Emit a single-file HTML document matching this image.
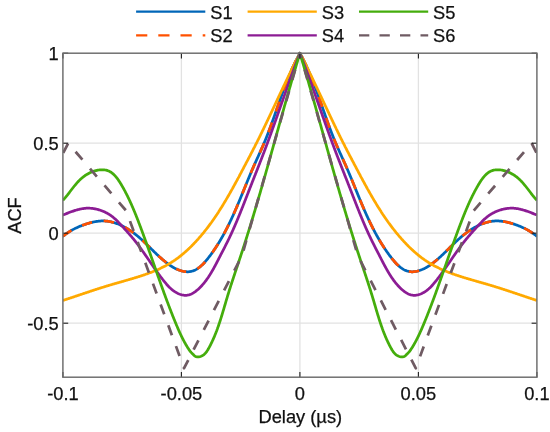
<!DOCTYPE html>
<html><head><meta charset="utf-8"><style>html,body{margin:0;padding:0;background:#fff;overflow:hidden}svg{display:block}</style></head>
<body><svg width="550" height="432" viewBox="0 0 550 432">
<defs><clipPath id="c"><rect x="62.9" y="51.2" width="474.0" height="326.0"/></clipPath></defs>
<rect width="550" height="432" fill="#fff"/>
<g stroke="#e2e2e2" stroke-width="1.3"><line x1="181.40" y1="53.2" x2="181.40" y2="377.2"/><line x1="299.90" y1="53.2" x2="299.90" y2="377.2"/><line x1="418.40" y1="53.2" x2="418.40" y2="377.2"/><line x1="62.9" y1="143.20" x2="536.9" y2="143.20"/><line x1="62.9" y1="233.20" x2="536.9" y2="233.20"/><line x1="62.9" y1="323.20" x2="536.9" y2="323.20"/></g>
<g clip-path="url(#c)" fill="none" stroke-width="2.75" stroke-linejoin="round">
<path d="M62.86 236.29 L63.42 235.86 L63.98 235.43 L64.54 235.02 L65.09 234.61 L65.63 234.22 L66.17 233.84 L66.70 233.46 L67.23 233.10 L67.76 232.74 L68.28 232.39 L68.80 232.06 L69.31 231.73 L69.83 231.40 L70.33 231.09 L70.84 230.79 L71.34 230.49 L71.85 230.20 L72.34 229.92 L72.84 229.64 L73.34 229.37 L73.83 229.11 L74.33 228.85 L74.82 228.60 L75.32 228.35 L75.81 228.11 L76.31 227.88 L76.81 227.64 L77.30 227.42 L77.81 227.19 L78.31 226.97 L78.81 226.76 L79.32 226.55 L79.83 226.34 L80.35 226.13 L80.87 225.92 L81.39 225.72 L81.92 225.52 L82.45 225.32 L82.99 225.12 L83.53 224.92 L84.08 224.73 L84.64 224.53 L85.20 224.34 L85.76 224.15 L86.33 223.96 L86.91 223.78 L87.49 223.60 L88.07 223.42 L88.66 223.24 L89.25 223.07 L89.84 222.90 L90.44 222.74 L91.04 222.58 L91.65 222.43 L92.26 222.29 L92.87 222.15 L93.49 222.01 L94.10 221.88 L94.72 221.76 L95.35 221.65 L95.97 221.54 L96.60 221.44 L97.23 221.35 L97.86 221.27 L98.49 221.19 L99.12 221.13 L99.76 221.07 L100.39 221.03 L101.03 220.99 L101.67 220.96 L102.31 220.95 L102.94 220.94 L103.58 220.95 L104.22 220.96 L104.86 220.99 L105.50 221.03 L106.14 221.09 L106.78 221.15 L107.41 221.22 L108.05 221.31 L108.69 221.41 L109.32 221.52 L109.96 221.64 L110.59 221.77 L111.22 221.90 L111.86 222.05 L112.49 222.21 L113.12 222.38 L113.75 222.56 L114.37 222.75 L115.00 222.95 L115.63 223.16 L116.25 223.37 L116.87 223.60 L117.49 223.83 L118.11 224.07 L118.73 224.32 L119.34 224.58 L119.95 224.85 L120.56 225.12 L121.17 225.40 L121.78 225.69 L122.38 225.99 L122.98 226.29 L123.58 226.60 L124.18 226.92 L124.77 227.24 L125.37 227.57 L125.95 227.90 L126.54 228.25 L127.12 228.59 L127.70 228.95 L128.28 229.30 L128.85 229.67 L129.42 230.04 L129.99 230.41 L130.56 230.79 L131.12 231.17 L131.67 231.56 L132.23 231.95 L132.78 232.35 L133.32 232.74 L133.87 233.15 L134.40 233.55 L134.94 233.96 L135.47 234.38 L136.00 234.79 L136.52 235.21 L137.04 235.64 L137.55 236.06 L138.06 236.49 L138.57 236.92 L139.08 237.35 L139.58 237.79 L140.08 238.22 L140.58 238.66 L141.07 239.10 L141.56 239.55 L142.05 239.99 L142.54 240.44 L143.02 240.89 L143.50 241.34 L143.99 241.79 L144.46 242.25 L144.94 242.70 L145.42 243.16 L145.89 243.61 L146.36 244.07 L146.83 244.53 L147.30 244.99 L147.77 245.45 L148.24 245.91 L148.71 246.37 L149.18 246.83 L149.64 247.30 L150.11 247.76 L150.58 248.22 L151.04 248.68 L151.51 249.15 L151.98 249.61 L152.44 250.07 L152.91 250.53 L153.38 250.99 L153.85 251.45 L154.32 251.91 L154.79 252.37 L155.26 252.83 L155.73 253.29 L156.20 253.75 L156.68 254.20 L157.16 254.65 L157.64 255.11 L158.12 255.56 L158.60 256.01 L159.08 256.45 L159.57 256.90 L160.06 257.34 L160.55 257.79 L161.04 258.23 L161.54 258.66 L162.04 259.10 L162.54 259.53 L163.05 259.96 L163.56 260.39 L164.07 260.82 L164.59 261.24 L165.11 261.66 L165.63 262.08 L166.16 262.49 L166.69 262.90 L167.22 263.31 L167.76 263.72 L168.30 264.12 L168.85 264.51 L169.40 264.90 L169.96 265.29 L170.53 265.66 L171.09 266.04 L171.67 266.40 L172.25 266.76 L172.83 267.11 L173.42 267.45 L174.02 267.79 L174.63 268.11 L175.24 268.42 L175.85 268.73 L176.48 269.02 L177.11 269.31 L177.75 269.58 L178.39 269.83 L179.04 270.08 L179.69 270.31 L180.35 270.53 L181.01 270.73 L181.67 270.92 L182.34 271.09 L183.00 271.24 L183.66 271.38 L184.33 271.49 L184.99 271.59 L185.64 271.67 L186.29 271.72 L186.94 271.76 L187.58 271.77 L188.22 271.76 L188.85 271.72 L189.47 271.66 L190.08 271.58 L190.69 271.48 L191.29 271.35 L191.88 271.21 L192.46 271.04 L193.04 270.85 L193.61 270.64 L194.18 270.42 L194.74 270.17 L195.29 269.91 L195.84 269.63 L196.38 269.33 L196.91 269.02 L197.44 268.69 L197.96 268.35 L198.48 267.99 L198.99 267.61 L199.50 267.23 L200.00 266.83 L200.49 266.41 L200.98 265.99 L201.47 265.55 L201.95 265.11 L202.43 264.65 L202.90 264.19 L203.37 263.71 L203.83 263.23 L204.29 262.73 L204.74 262.23 L205.19 261.73 L205.64 261.21 L206.08 260.70 L206.52 260.17 L206.96 259.64 L207.39 259.11 L207.82 258.57 L208.24 258.03 L208.66 257.49 L209.08 256.95 L209.50 256.40 L209.91 255.85 L210.32 255.31 L210.73 254.76 L211.14 254.21 L211.54 253.65 L211.94 253.10 L212.33 252.55 L212.73 251.99 L213.12 251.43 L213.51 250.87 L213.90 250.31 L214.28 249.75 L214.66 249.19 L215.04 248.63 L215.41 248.06 L215.79 247.50 L216.16 246.93 L216.53 246.36 L216.89 245.80 L217.26 245.23 L217.62 244.65 L217.98 244.08 L218.34 243.51 L218.69 242.93 L219.04 242.36 L219.39 241.78 L219.74 241.21 L220.09 240.63 L220.43 240.05 L220.77 239.47 L221.11 238.89 L221.45 238.30 L221.78 237.72 L222.12 237.14 L222.45 236.55 L222.78 235.97 L223.11 235.38 L223.43 234.79 L223.75 234.20 L224.08 233.61 L224.40 233.02 L224.71 232.43 L225.03 231.84 L225.34 231.25 L225.66 230.65 L225.97 230.06 L226.28 229.46 L226.59 228.87 L226.89 228.27 L227.20 227.67 L227.50 227.08 L227.80 226.48 L228.10 225.88 L228.40 225.28 L228.69 224.68 L228.99 224.07 L229.28 223.47 L229.57 222.87 L229.87 222.26 L230.16 221.66 L230.44 221.05 L230.73 220.45 L231.02 219.84 L231.30 219.24 L231.58 218.63 L231.86 218.02 L232.15 217.41 L232.43 216.80 L232.70 216.19 L232.98 215.58 L233.26 214.97 L233.53 214.36 L233.81 213.75 L234.08 213.14 L234.35 212.53 L234.62 211.91 L234.89 211.30 L235.16 210.69 L235.43 210.07 L235.70 209.46 L235.96 208.84 L236.23 208.23 L236.49 207.61 L236.76 206.99 L237.02 206.38 L237.29 205.76 L237.55 205.14 L237.81 204.53 L238.07 203.91 L238.33 203.29 L238.59 202.67 L238.85 202.05 L239.11 201.44 L239.37 200.82 L239.62 200.20 L239.88 199.58 L240.14 198.96 L240.39 198.34 L240.65 197.72 L240.90 197.10 L241.16 196.48 L241.41 195.86 L241.67 195.24 L241.92 194.62 L242.18 194.00 L242.43 193.38 L242.69 192.75 L242.94 192.13 L243.19 191.51 L243.45 190.89 L243.70 190.27 L243.95 189.65 L244.21 189.03 L244.46 188.41 L244.71 187.78 L244.96 187.16 L245.22 186.54 L245.47 185.92 L245.73 185.30 L245.98 184.68 L246.23 184.06 L246.49 183.44 L246.74 182.82 L247.00 182.20 L247.25 181.58 L247.51 180.95 L247.76 180.33 L248.02 179.71 L248.27 179.09 L248.53 178.47 L248.79 177.86 L249.04 177.24 L249.30 176.62 L249.56 176.00 L249.82 175.38 L250.08 174.76 L250.34 174.14 L250.60 173.53 L250.86 172.91 L251.12 172.29 L251.39 171.67 L251.65 171.06 L251.91 170.44 L252.18 169.82 L252.44 169.21 L252.71 168.59 L252.98 167.98 L253.24 167.36 L253.51 166.75 L253.78 166.14 L254.05 165.52 L254.33 164.91 L254.60 164.30 L254.87 163.69 L255.15 163.08 L255.42 162.46 L255.70 161.85 L255.97 161.24 L256.25 160.63 L256.52 160.02 L256.80 159.41 L257.08 158.80 L257.36 158.19 L257.63 157.58 L257.91 156.97 L258.19 156.36 L258.47 155.75 L258.74 155.14 L259.02 154.53 L259.30 153.92 L259.57 153.31 L259.85 152.70 L260.13 152.09 L260.40 151.48 L260.68 150.87 L260.95 150.26 L261.22 149.65 L261.50 149.04 L261.77 148.42 L262.04 147.81 L262.31 147.20 L262.58 146.59 L262.85 145.97 L263.11 145.36 L263.38 144.74 L263.64 144.13 L263.90 143.51 L264.17 142.90 L264.43 142.28 L264.68 141.66 L264.94 141.04 L265.20 140.42 L265.45 139.81 L265.70 139.19 L265.96 138.57 L266.21 137.94 L266.46 137.32 L266.70 136.70 L266.95 136.08 L267.20 135.46 L267.44 134.83 L267.68 134.21 L267.93 133.59 L268.17 132.96 L268.41 132.34 L268.65 131.71 L268.88 131.08 L269.12 130.46 L269.36 129.83 L269.59 129.20 L269.83 128.58 L270.06 127.95 L270.29 127.32 L270.53 126.69 L270.76 126.06 L270.99 125.43 L271.22 124.80 L271.45 124.18 L271.68 123.55 L271.90 122.91 L272.13 122.28 L272.36 121.65 L272.58 121.02 L272.81 120.39 L273.03 119.76 L273.26 119.13 L273.48 118.50 L273.71 117.86 L273.93 117.23 L274.15 116.60 L274.38 115.97 L274.60 115.33 L274.82 114.70 L275.04 114.07 L275.26 113.44 L275.49 112.80 L275.71 112.17 L275.93 111.54 L276.15 110.90 L276.37 110.27 L276.59 109.64 L276.81 109.00 L277.03 108.37 L277.25 107.73 L277.47 107.10 L277.70 106.47 L277.92 105.83 L278.14 105.20 L278.36 104.57 L278.58 103.93 L278.80 103.30 L279.02 102.67 L279.25 102.03 L279.47 101.40 L279.69 100.77 L279.91 100.13 L280.14 99.50 L280.36 98.87 L280.59 98.24 L280.81 97.60 L281.04 96.97 L281.26 96.34 L281.49 95.71 L281.71 95.08 L281.94 94.45 L282.17 93.82 L282.40 93.18 L282.63 92.55 L282.86 91.92 L283.09 91.29 L283.32 90.66 L283.55 90.03 L283.78 89.40 L284.02 88.78 L284.25 88.15 L284.49 87.52 L284.72 86.89 L284.96 86.26 L285.20 85.64 L285.44 85.01 L285.68 84.38 L285.92 83.76 L286.16 83.13 L286.41 82.51 L286.65 81.88 L286.90 81.26 L287.14 80.63 L287.39 80.01 L287.64 79.39 L287.89 78.76 L288.14 78.14 L288.40 77.52 L288.65 76.90 L288.91 76.28 L289.16 75.66 L289.42 75.04 L289.68 74.42 L289.94 73.80 L290.21 73.19 L290.47 72.57 L290.74 71.95 L291.01 71.34 L291.28 70.72 L291.55 70.11 L291.82 69.49 L292.09 68.88 L292.37 68.27 L292.65 67.65 L292.93 67.04 L293.21 66.43 L293.49 65.82 L293.77 65.21 L294.06 64.61 L294.35 64.00 L294.64 63.39 L294.93 62.78 L295.23 62.18 L295.52 61.58 L295.82 60.97 L296.12 60.37 L296.43 59.77 L296.73 59.16 L297.04 58.56 L297.35 57.96 L297.66 57.37 L297.97 56.77 L298.29 56.17 L298.60 55.58 L298.93 54.98 L299.25 54.39 L299.57 53.79 L299.90 53.20 L300.23 53.79 L300.55 54.39 L300.87 54.98 L301.20 55.58 L301.51 56.17 L301.83 56.77 L302.14 57.37 L302.45 57.96 L302.76 58.56 L303.07 59.16 L303.37 59.77 L303.68 60.37 L303.98 60.97 L304.28 61.58 L304.57 62.18 L304.87 62.78 L305.16 63.39 L305.45 64.00 L305.74 64.61 L306.03 65.21 L306.31 65.82 L306.59 66.43 L306.87 67.04 L307.15 67.65 L307.43 68.27 L307.71 68.88 L307.98 69.49 L308.25 70.11 L308.52 70.72 L308.79 71.34 L309.06 71.95 L309.33 72.57 L309.59 73.19 L309.86 73.80 L310.12 74.42 L310.38 75.04 L310.64 75.66 L310.89 76.28 L311.15 76.90 L311.40 77.52 L311.66 78.14 L311.91 78.76 L312.16 79.39 L312.41 80.01 L312.66 80.63 L312.90 81.26 L313.15 81.88 L313.39 82.51 L313.64 83.13 L313.88 83.76 L314.12 84.38 L314.36 85.01 L314.60 85.64 L314.84 86.26 L315.08 86.89 L315.31 87.52 L315.55 88.15 L315.78 88.78 L316.02 89.40 L316.25 90.03 L316.48 90.66 L316.71 91.29 L316.94 91.92 L317.17 92.55 L317.40 93.18 L317.63 93.82 L317.86 94.45 L318.09 95.08 L318.31 95.71 L318.54 96.34 L318.76 96.97 L318.99 97.60 L319.21 98.24 L319.44 98.87 L319.66 99.50 L319.89 100.13 L320.11 100.77 L320.33 101.40 L320.55 102.03 L320.78 102.67 L321.00 103.30 L321.22 103.93 L321.44 104.57 L321.66 105.20 L321.88 105.83 L322.10 106.47 L322.33 107.10 L322.55 107.73 L322.77 108.37 L322.99 109.00 L323.21 109.64 L323.43 110.27 L323.65 110.90 L323.87 111.54 L324.09 112.17 L324.31 112.80 L324.54 113.44 L324.76 114.07 L324.98 114.70 L325.20 115.33 L325.42 115.97 L325.65 116.60 L325.87 117.23 L326.09 117.86 L326.32 118.50 L326.54 119.13 L326.77 119.76 L326.99 120.39 L327.22 121.02 L327.44 121.65 L327.67 122.28 L327.90 122.91 L328.12 123.55 L328.35 124.18 L328.58 124.80 L328.81 125.43 L329.04 126.06 L329.27 126.69 L329.51 127.32 L329.74 127.95 L329.97 128.58 L330.21 129.20 L330.44 129.83 L330.68 130.46 L330.92 131.08 L331.15 131.71 L331.39 132.34 L331.63 132.96 L331.87 133.59 L332.12 134.21 L332.36 134.83 L332.60 135.46 L332.85 136.08 L333.10 136.70 L333.34 137.32 L333.59 137.94 L333.84 138.57 L334.10 139.19 L334.35 139.81 L334.60 140.42 L334.86 141.04 L335.12 141.66 L335.37 142.28 L335.63 142.90 L335.90 143.51 L336.16 144.13 L336.42 144.74 L336.69 145.36 L336.95 145.97 L337.22 146.59 L337.49 147.20 L337.76 147.81 L338.03 148.42 L338.30 149.04 L338.58 149.65 L338.85 150.26 L339.12 150.87 L339.40 151.48 L339.67 152.09 L339.95 152.70 L340.23 153.31 L340.50 153.92 L340.78 154.53 L341.06 155.14 L341.33 155.75 L341.61 156.36 L341.89 156.97 L342.17 157.58 L342.44 158.19 L342.72 158.80 L343.00 159.41 L343.28 160.02 L343.55 160.63 L343.83 161.24 L344.10 161.85 L344.38 162.46 L344.65 163.08 L344.93 163.69 L345.20 164.30 L345.47 164.91 L345.75 165.52 L346.02 166.14 L346.29 166.75 L346.56 167.36 L346.82 167.98 L347.09 168.59 L347.36 169.21 L347.62 169.82 L347.89 170.44 L348.15 171.06 L348.41 171.67 L348.68 172.29 L348.94 172.91 L349.20 173.53 L349.46 174.14 L349.72 174.76 L349.98 175.38 L350.24 176.00 L350.50 176.62 L350.76 177.24 L351.01 177.86 L351.27 178.47 L351.53 179.09 L351.78 179.71 L352.04 180.33 L352.29 180.95 L352.55 181.58 L352.80 182.20 L353.06 182.82 L353.31 183.44 L353.57 184.06 L353.82 184.68 L354.07 185.30 L354.33 185.92 L354.58 186.54 L354.84 187.16 L355.09 187.78 L355.34 188.41 L355.59 189.03 L355.85 189.65 L356.10 190.27 L356.35 190.89 L356.61 191.51 L356.86 192.13 L357.11 192.75 L357.37 193.38 L357.62 194.00 L357.88 194.62 L358.13 195.24 L358.39 195.86 L358.64 196.48 L358.90 197.10 L359.15 197.72 L359.41 198.34 L359.66 198.96 L359.92 199.58 L360.18 200.20 L360.43 200.82 L360.69 201.44 L360.95 202.05 L361.21 202.67 L361.47 203.29 L361.73 203.91 L361.99 204.53 L362.25 205.14 L362.51 205.76 L362.78 206.38 L363.04 206.99 L363.31 207.61 L363.57 208.23 L363.84 208.84 L364.10 209.46 L364.37 210.07 L364.64 210.69 L364.91 211.30 L365.18 211.91 L365.45 212.53 L365.72 213.14 L365.99 213.75 L366.27 214.36 L366.54 214.97 L366.82 215.58 L367.10 216.19 L367.37 216.80 L367.65 217.41 L367.94 218.02 L368.22 218.63 L368.50 219.24 L368.78 219.84 L369.07 220.45 L369.36 221.05 L369.64 221.66 L369.93 222.26 L370.23 222.87 L370.52 223.47 L370.81 224.07 L371.11 224.68 L371.40 225.28 L371.70 225.88 L372.00 226.48 L372.30 227.08 L372.60 227.67 L372.91 228.27 L373.21 228.87 L373.52 229.46 L373.83 230.06 L374.14 230.65 L374.46 231.25 L374.77 231.84 L375.09 232.43 L375.40 233.02 L375.72 233.61 L376.05 234.20 L376.37 234.79 L376.69 235.38 L377.02 235.97 L377.35 236.55 L377.68 237.14 L378.02 237.72 L378.35 238.30 L378.69 238.89 L379.03 239.47 L379.37 240.05 L379.71 240.63 L380.06 241.21 L380.41 241.78 L380.76 242.36 L381.11 242.93 L381.46 243.51 L381.82 244.08 L382.18 244.65 L382.54 245.23 L382.91 245.80 L383.27 246.36 L383.64 246.93 L384.01 247.50 L384.39 248.06 L384.76 248.63 L385.14 249.19 L385.52 249.75 L385.90 250.31 L386.29 250.87 L386.68 251.43 L387.07 251.99 L387.47 252.55 L387.86 253.10 L388.26 253.65 L388.66 254.21 L389.07 254.76 L389.48 255.31 L389.89 255.85 L390.30 256.40 L390.72 256.95 L391.14 257.49 L391.56 258.03 L391.98 258.57 L392.41 259.11 L392.84 259.64 L393.28 260.17 L393.72 260.70 L394.16 261.21 L394.61 261.73 L395.06 262.23 L395.51 262.73 L395.97 263.23 L396.43 263.71 L396.90 264.19 L397.37 264.65 L397.85 265.11 L398.33 265.55 L398.82 265.99 L399.31 266.41 L399.80 266.83 L400.30 267.23 L400.81 267.61 L401.32 267.99 L401.84 268.35 L402.36 268.69 L402.89 269.02 L403.42 269.33 L403.96 269.63 L404.51 269.91 L405.06 270.17 L405.62 270.42 L406.19 270.64 L406.76 270.85 L407.34 271.04 L407.92 271.21 L408.51 271.35 L409.11 271.48 L409.72 271.58 L410.33 271.66 L410.95 271.72 L411.58 271.76 L412.22 271.77 L412.86 271.76 L413.51 271.72 L414.16 271.67 L414.81 271.59 L415.47 271.49 L416.14 271.38 L416.80 271.24 L417.46 271.09 L418.13 270.92 L418.79 270.73 L419.45 270.53 L420.11 270.31 L420.76 270.08 L421.41 269.83 L422.05 269.58 L422.69 269.31 L423.32 269.02 L423.95 268.73 L424.56 268.42 L425.17 268.11 L425.78 267.79 L426.38 267.45 L426.97 267.11 L427.55 266.76 L428.13 266.40 L428.71 266.04 L429.27 265.66 L429.84 265.29 L430.40 264.90 L430.95 264.51 L431.50 264.12 L432.04 263.72 L432.58 263.31 L433.11 262.90 L433.64 262.49 L434.17 262.08 L434.69 261.66 L435.21 261.24 L435.73 260.82 L436.24 260.39 L436.75 259.96 L437.26 259.53 L437.76 259.10 L438.26 258.66 L438.76 258.23 L439.25 257.79 L439.74 257.34 L440.23 256.90 L440.72 256.45 L441.20 256.01 L441.68 255.56 L442.16 255.11 L442.64 254.65 L443.12 254.20 L443.60 253.75 L444.07 253.29 L444.54 252.83 L445.01 252.37 L445.48 251.91 L445.95 251.45 L446.42 250.99 L446.89 250.53 L447.36 250.07 L447.82 249.61 L448.29 249.15 L448.76 248.68 L449.22 248.22 L449.69 247.76 L450.16 247.30 L450.62 246.83 L451.09 246.37 L451.56 245.91 L452.03 245.45 L452.50 244.99 L452.97 244.53 L453.44 244.07 L453.91 243.61 L454.38 243.16 L454.86 242.70 L455.34 242.25 L455.81 241.79 L456.30 241.34 L456.78 240.89 L457.26 240.44 L457.75 239.99 L458.24 239.55 L458.73 239.10 L459.22 238.66 L459.72 238.22 L460.22 237.79 L460.72 237.35 L461.23 236.92 L461.74 236.49 L462.25 236.06 L462.76 235.64 L463.28 235.21 L463.80 234.79 L464.33 234.38 L464.86 233.96 L465.40 233.55 L465.93 233.15 L466.48 232.74 L467.02 232.35 L467.57 231.95 L468.13 231.56 L468.68 231.17 L469.24 230.79 L469.81 230.41 L470.38 230.04 L470.95 229.67 L471.52 229.30 L472.10 228.95 L472.68 228.59 L473.26 228.25 L473.85 227.90 L474.43 227.57 L475.03 227.24 L475.62 226.92 L476.22 226.60 L476.82 226.29 L477.42 225.99 L478.02 225.69 L478.63 225.40 L479.24 225.12 L479.85 224.85 L480.46 224.58 L481.07 224.32 L481.69 224.07 L482.31 223.83 L482.93 223.60 L483.55 223.37 L484.17 223.16 L484.80 222.95 L485.43 222.75 L486.05 222.56 L486.68 222.38 L487.31 222.21 L487.94 222.05 L488.58 221.90 L489.21 221.77 L489.84 221.64 L490.48 221.52 L491.11 221.41 L491.75 221.31 L492.39 221.22 L493.02 221.15 L493.66 221.09 L494.30 221.03 L494.94 220.99 L495.58 220.96 L496.22 220.95 L496.86 220.94 L497.49 220.95 L498.13 220.96 L498.77 220.99 L499.41 221.03 L500.04 221.07 L500.68 221.13 L501.31 221.19 L501.94 221.27 L502.57 221.35 L503.20 221.44 L503.83 221.54 L504.45 221.65 L505.08 221.76 L505.70 221.88 L506.31 222.01 L506.93 222.15 L507.54 222.29 L508.15 222.43 L508.76 222.58 L509.36 222.74 L509.96 222.90 L510.55 223.07 L511.14 223.24 L511.73 223.42 L512.31 223.60 L512.89 223.78 L513.47 223.96 L514.04 224.15 L514.60 224.34 L515.16 224.53 L515.72 224.73 L516.27 224.92 L516.81 225.12 L517.35 225.32 L517.88 225.52 L518.41 225.72 L518.93 225.92 L519.45 226.13 L519.97 226.34 L520.48 226.55 L520.99 226.76 L521.49 226.97 L521.99 227.19 L522.50 227.42 L522.99 227.64 L523.49 227.88 L523.99 228.11 L524.48 228.35 L524.98 228.60 L525.47 228.85 L525.97 229.11 L526.46 229.37 L526.96 229.64 L527.46 229.92 L527.95 230.20 L528.46 230.49 L528.96 230.79 L529.47 231.09 L529.97 231.40 L530.49 231.73 L531.00 232.06 L531.52 232.39 L532.04 232.74 L532.57 233.10 L533.10 233.46 L533.63 233.84 L534.17 234.22 L534.71 234.61 L535.26 235.02 L535.82 235.43 L536.38 235.86 L536.94 236.29" stroke="#0066b8"/>
<path d="M62.86 236.29 L63.42 235.86 L63.98 235.43 L64.54 235.02 L65.09 234.61 L65.63 234.22 L66.17 233.84 L66.70 233.46 L67.23 233.10 L67.76 232.74 L68.28 232.39 L68.80 232.06 L69.31 231.73 L69.83 231.40 L70.33 231.09 L70.84 230.79 L71.34 230.49 L71.85 230.20 L72.34 229.92 L72.84 229.64 L73.34 229.37 L73.83 229.11 L74.33 228.85 L74.82 228.60 L75.32 228.35 L75.81 228.11 L76.31 227.88 L76.81 227.64 L77.30 227.42 L77.81 227.19 L78.31 226.97 L78.81 226.76 L79.32 226.55 L79.83 226.34 L80.35 226.13 L80.87 225.92 L81.39 225.72 L81.92 225.52 L82.45 225.32 L82.99 225.12 L83.53 224.92 L84.08 224.73 L84.64 224.53 L85.20 224.34 L85.76 224.15 L86.33 223.96 L86.91 223.78 L87.49 223.60 L88.07 223.42 L88.66 223.24 L89.25 223.07 L89.84 222.90 L90.44 222.74 L91.04 222.58 L91.65 222.43 L92.26 222.29 L92.87 222.15 L93.49 222.01 L94.10 221.88 L94.72 221.76 L95.35 221.65 L95.97 221.54 L96.60 221.44 L97.23 221.35 L97.86 221.27 L98.49 221.19 L99.12 221.13 L99.76 221.07 L100.39 221.03 L101.03 220.99 L101.67 220.96 L102.31 220.95 L102.94 220.94 L103.58 220.95 L104.22 220.96 L104.86 220.99 L105.50 221.03 L106.14 221.09 L106.78 221.15 L107.41 221.22 L108.05 221.31 L108.69 221.41 L109.32 221.52 L109.96 221.64 L110.59 221.77 L111.22 221.90 L111.86 222.05 L112.49 222.21 L113.12 222.38 L113.75 222.56 L114.37 222.75 L115.00 222.95 L115.63 223.16 L116.25 223.37 L116.87 223.60 L117.49 223.83 L118.11 224.07 L118.73 224.32 L119.34 224.58 L119.95 224.85 L120.56 225.12 L121.17 225.40 L121.78 225.69 L122.38 225.99 L122.98 226.29 L123.58 226.60 L124.18 226.92 L124.77 227.24 L125.37 227.57 L125.95 227.90 L126.54 228.25 L127.12 228.59 L127.70 228.95 L128.28 229.30 L128.85 229.67 L129.42 230.04 L129.99 230.41 L130.56 230.79 L131.12 231.17 L131.67 231.56 L132.23 231.95 L132.78 232.35 L133.32 232.74 L133.87 233.15 L134.40 233.55 L134.94 233.96 L135.47 234.38 L136.00 234.79 L136.52 235.21 L137.04 235.64 L137.55 236.06 L138.06 236.49 L138.57 236.92 L139.08 237.35 L139.58 237.79 L140.08 238.22 L140.58 238.66 L141.07 239.10 L141.56 239.55 L142.05 239.99 L142.54 240.44 L143.02 240.89 L143.50 241.34 L143.99 241.79 L144.46 242.25 L144.94 242.70 L145.42 243.16 L145.89 243.61 L146.36 244.07 L146.83 244.53 L147.30 244.99 L147.77 245.45 L148.24 245.91 L148.71 246.37 L149.18 246.83 L149.64 247.30 L150.11 247.76 L150.58 248.22 L151.04 248.68 L151.51 249.15 L151.98 249.61 L152.44 250.07 L152.91 250.53 L153.38 250.99 L153.85 251.45 L154.32 251.91 L154.79 252.37 L155.26 252.83 L155.73 253.29 L156.20 253.75 L156.68 254.20 L157.16 254.65 L157.64 255.11 L158.12 255.56 L158.60 256.01 L159.08 256.45 L159.57 256.90 L160.06 257.34 L160.55 257.79 L161.04 258.23 L161.54 258.66 L162.04 259.10 L162.54 259.53 L163.05 259.96 L163.56 260.39 L164.07 260.82 L164.59 261.24 L165.11 261.66 L165.63 262.08 L166.16 262.49 L166.69 262.90 L167.22 263.31 L167.76 263.72 L168.30 264.12 L168.85 264.51 L169.40 264.90 L169.96 265.29 L170.53 265.66 L171.09 266.04 L171.67 266.40 L172.25 266.76 L172.83 267.11 L173.42 267.45 L174.02 267.79 L174.63 268.11 L175.24 268.42 L175.85 268.73 L176.48 269.02 L177.11 269.31 L177.75 269.58 L178.39 269.83 L179.04 270.08 L179.69 270.31 L180.35 270.53 L181.01 270.73 L181.67 270.92 L182.34 271.09 L183.00 271.24 L183.66 271.38 L184.33 271.49 L184.99 271.59 L185.64 271.67 L186.29 271.72 L186.94 271.76 L187.58 271.77 L188.22 271.76 L188.85 271.72 L189.47 271.66 L190.08 271.58 L190.69 271.48 L191.29 271.35 L191.88 271.21 L192.46 271.04 L193.04 270.85 L193.61 270.64 L194.18 270.42 L194.74 270.17 L195.29 269.91 L195.84 269.63 L196.38 269.33 L196.91 269.02 L197.44 268.69 L197.96 268.35 L198.48 267.99 L198.99 267.61 L199.50 267.23 L200.00 266.83 L200.49 266.41 L200.98 265.99 L201.47 265.55 L201.95 265.11 L202.43 264.65 L202.90 264.19 L203.37 263.71 L203.83 263.23 L204.29 262.73 L204.74 262.23 L205.19 261.73 L205.64 261.21 L206.08 260.70 L206.52 260.17 L206.96 259.64 L207.39 259.11 L207.82 258.57 L208.24 258.03 L208.66 257.49 L209.08 256.95 L209.50 256.40 L209.91 255.85 L210.32 255.31 L210.73 254.76 L211.14 254.21 L211.54 253.65 L211.94 253.10 L212.33 252.55 L212.73 251.99 L213.12 251.43 L213.51 250.87 L213.90 250.31 L214.28 249.75 L214.66 249.19 L215.04 248.63 L215.41 248.06 L215.79 247.50 L216.16 246.93 L216.53 246.36 L216.89 245.80 L217.26 245.23 L217.62 244.65 L217.98 244.08 L218.34 243.51 L218.69 242.93 L219.04 242.36 L219.39 241.78 L219.74 241.21 L220.09 240.63 L220.43 240.05 L220.77 239.47 L221.11 238.89 L221.45 238.30 L221.78 237.72 L222.12 237.14 L222.45 236.55 L222.78 235.97 L223.11 235.38 L223.43 234.79 L223.75 234.20 L224.08 233.61 L224.40 233.02 L224.71 232.43 L225.03 231.84 L225.34 231.25 L225.66 230.65 L225.97 230.06 L226.28 229.46 L226.59 228.87 L226.89 228.27 L227.20 227.67 L227.50 227.08 L227.80 226.48 L228.10 225.88 L228.40 225.28 L228.69 224.68 L228.99 224.07 L229.28 223.47 L229.57 222.87 L229.87 222.26 L230.16 221.66 L230.44 221.05 L230.73 220.45 L231.02 219.84 L231.30 219.24 L231.58 218.63 L231.86 218.02 L232.15 217.41 L232.43 216.80 L232.70 216.19 L232.98 215.58 L233.26 214.97 L233.53 214.36 L233.81 213.75 L234.08 213.14 L234.35 212.53 L234.62 211.91 L234.89 211.30 L235.16 210.69 L235.43 210.07 L235.70 209.46 L235.96 208.84 L236.23 208.23 L236.49 207.61 L236.76 206.99 L237.02 206.38 L237.29 205.76 L237.55 205.14 L237.81 204.53 L238.07 203.91 L238.33 203.29 L238.59 202.67 L238.85 202.05 L239.11 201.44 L239.37 200.82 L239.62 200.20 L239.88 199.58 L240.14 198.96 L240.39 198.34 L240.65 197.72 L240.90 197.10 L241.16 196.48 L241.41 195.86 L241.67 195.24 L241.92 194.62 L242.18 194.00 L242.43 193.38 L242.69 192.75 L242.94 192.13 L243.19 191.51 L243.45 190.89 L243.70 190.27 L243.95 189.65 L244.21 189.03 L244.46 188.41 L244.71 187.78 L244.96 187.16 L245.22 186.54 L245.47 185.92 L245.73 185.30 L245.98 184.68 L246.23 184.06 L246.49 183.44 L246.74 182.82 L247.00 182.20 L247.25 181.58 L247.51 180.95 L247.76 180.33 L248.02 179.71 L248.27 179.09 L248.53 178.47 L248.79 177.86 L249.04 177.24 L249.30 176.62 L249.56 176.00 L249.82 175.38 L250.08 174.76 L250.34 174.14 L250.60 173.53 L250.86 172.91 L251.12 172.29 L251.39 171.67 L251.65 171.06 L251.91 170.44 L252.18 169.82 L252.44 169.21 L252.71 168.59 L252.98 167.98 L253.24 167.36 L253.51 166.75 L253.78 166.14 L254.05 165.52 L254.33 164.91 L254.60 164.30 L254.87 163.69 L255.15 163.08 L255.42 162.46 L255.70 161.85 L255.97 161.24 L256.25 160.63 L256.52 160.02 L256.80 159.41 L257.08 158.80 L257.36 158.19 L257.63 157.58 L257.91 156.97 L258.19 156.36 L258.47 155.75 L258.74 155.14 L259.02 154.53 L259.30 153.92 L259.57 153.31 L259.85 152.70 L260.13 152.09 L260.40 151.48 L260.68 150.87 L260.95 150.26 L261.22 149.65 L261.50 149.04 L261.77 148.42 L262.04 147.81 L262.31 147.20 L262.58 146.59 L262.85 145.97 L263.11 145.36 L263.38 144.74 L263.64 144.13 L263.90 143.51 L264.17 142.90 L264.43 142.28 L264.68 141.66 L264.94 141.04 L265.20 140.42 L265.45 139.81 L265.70 139.19 L265.96 138.57 L266.21 137.94 L266.46 137.32 L266.70 136.70 L266.95 136.08 L267.20 135.46 L267.44 134.83 L267.68 134.21 L267.93 133.59 L268.17 132.96 L268.41 132.34 L268.65 131.71 L268.88 131.08 L269.12 130.46 L269.36 129.83 L269.59 129.20 L269.83 128.58 L270.06 127.95 L270.29 127.32 L270.53 126.69 L270.76 126.06 L270.99 125.43 L271.22 124.80 L271.45 124.18 L271.68 123.55 L271.90 122.91 L272.13 122.28 L272.36 121.65 L272.58 121.02 L272.81 120.39 L273.03 119.76 L273.26 119.13 L273.48 118.50 L273.71 117.86 L273.93 117.23 L274.15 116.60 L274.38 115.97 L274.60 115.33 L274.82 114.70 L275.04 114.07 L275.26 113.44 L275.49 112.80 L275.71 112.17 L275.93 111.54 L276.15 110.90 L276.37 110.27 L276.59 109.64 L276.81 109.00 L277.03 108.37 L277.25 107.73 L277.47 107.10 L277.70 106.47 L277.92 105.83 L278.14 105.20 L278.36 104.57 L278.58 103.93 L278.80 103.30 L279.02 102.67 L279.25 102.03 L279.47 101.40 L279.69 100.77 L279.91 100.13 L280.14 99.50 L280.36 98.87 L280.59 98.24 L280.81 97.60 L281.04 96.97 L281.26 96.34 L281.49 95.71 L281.71 95.08 L281.94 94.45 L282.17 93.82 L282.40 93.18 L282.63 92.55 L282.86 91.92 L283.09 91.29 L283.32 90.66 L283.55 90.03 L283.78 89.40 L284.02 88.78 L284.25 88.15 L284.49 87.52 L284.72 86.89 L284.96 86.26 L285.20 85.64 L285.44 85.01 L285.68 84.38 L285.92 83.76 L286.16 83.13 L286.41 82.51 L286.65 81.88 L286.90 81.26 L287.14 80.63 L287.39 80.01 L287.64 79.39 L287.89 78.76 L288.14 78.14 L288.40 77.52 L288.65 76.90 L288.91 76.28 L289.16 75.66 L289.42 75.04 L289.68 74.42 L289.94 73.80 L290.21 73.19 L290.47 72.57 L290.74 71.95 L291.01 71.34 L291.28 70.72 L291.55 70.11 L291.82 69.49 L292.09 68.88 L292.37 68.27 L292.65 67.65 L292.93 67.04 L293.21 66.43 L293.49 65.82 L293.77 65.21 L294.06 64.61 L294.35 64.00 L294.64 63.39 L294.93 62.78 L295.23 62.18 L295.52 61.58 L295.82 60.97 L296.12 60.37 L296.43 59.77 L296.73 59.16 L297.04 58.56 L297.35 57.96 L297.66 57.37 L297.97 56.77 L298.29 56.17 L298.60 55.58 L298.93 54.98 L299.25 54.39 L299.57 53.79 L299.90 53.20 L300.23 53.79 L300.55 54.39 L300.87 54.98 L301.20 55.58 L301.51 56.17 L301.83 56.77 L302.14 57.37 L302.45 57.96 L302.76 58.56 L303.07 59.16 L303.37 59.77 L303.68 60.37 L303.98 60.97 L304.28 61.58 L304.57 62.18 L304.87 62.78 L305.16 63.39 L305.45 64.00 L305.74 64.61 L306.03 65.21 L306.31 65.82 L306.59 66.43 L306.87 67.04 L307.15 67.65 L307.43 68.27 L307.71 68.88 L307.98 69.49 L308.25 70.11 L308.52 70.72 L308.79 71.34 L309.06 71.95 L309.33 72.57 L309.59 73.19 L309.86 73.80 L310.12 74.42 L310.38 75.04 L310.64 75.66 L310.89 76.28 L311.15 76.90 L311.40 77.52 L311.66 78.14 L311.91 78.76 L312.16 79.39 L312.41 80.01 L312.66 80.63 L312.90 81.26 L313.15 81.88 L313.39 82.51 L313.64 83.13 L313.88 83.76 L314.12 84.38 L314.36 85.01 L314.60 85.64 L314.84 86.26 L315.08 86.89 L315.31 87.52 L315.55 88.15 L315.78 88.78 L316.02 89.40 L316.25 90.03 L316.48 90.66 L316.71 91.29 L316.94 91.92 L317.17 92.55 L317.40 93.18 L317.63 93.82 L317.86 94.45 L318.09 95.08 L318.31 95.71 L318.54 96.34 L318.76 96.97 L318.99 97.60 L319.21 98.24 L319.44 98.87 L319.66 99.50 L319.89 100.13 L320.11 100.77 L320.33 101.40 L320.55 102.03 L320.78 102.67 L321.00 103.30 L321.22 103.93 L321.44 104.57 L321.66 105.20 L321.88 105.83 L322.10 106.47 L322.33 107.10 L322.55 107.73 L322.77 108.37 L322.99 109.00 L323.21 109.64 L323.43 110.27 L323.65 110.90 L323.87 111.54 L324.09 112.17 L324.31 112.80 L324.54 113.44 L324.76 114.07 L324.98 114.70 L325.20 115.33 L325.42 115.97 L325.65 116.60 L325.87 117.23 L326.09 117.86 L326.32 118.50 L326.54 119.13 L326.77 119.76 L326.99 120.39 L327.22 121.02 L327.44 121.65 L327.67 122.28 L327.90 122.91 L328.12 123.55 L328.35 124.18 L328.58 124.80 L328.81 125.43 L329.04 126.06 L329.27 126.69 L329.51 127.32 L329.74 127.95 L329.97 128.58 L330.21 129.20 L330.44 129.83 L330.68 130.46 L330.92 131.08 L331.15 131.71 L331.39 132.34 L331.63 132.96 L331.87 133.59 L332.12 134.21 L332.36 134.83 L332.60 135.46 L332.85 136.08 L333.10 136.70 L333.34 137.32 L333.59 137.94 L333.84 138.57 L334.10 139.19 L334.35 139.81 L334.60 140.42 L334.86 141.04 L335.12 141.66 L335.37 142.28 L335.63 142.90 L335.90 143.51 L336.16 144.13 L336.42 144.74 L336.69 145.36 L336.95 145.97 L337.22 146.59 L337.49 147.20 L337.76 147.81 L338.03 148.42 L338.30 149.04 L338.58 149.65 L338.85 150.26 L339.12 150.87 L339.40 151.48 L339.67 152.09 L339.95 152.70 L340.23 153.31 L340.50 153.92 L340.78 154.53 L341.06 155.14 L341.33 155.75 L341.61 156.36 L341.89 156.97 L342.17 157.58 L342.44 158.19 L342.72 158.80 L343.00 159.41 L343.28 160.02 L343.55 160.63 L343.83 161.24 L344.10 161.85 L344.38 162.46 L344.65 163.08 L344.93 163.69 L345.20 164.30 L345.47 164.91 L345.75 165.52 L346.02 166.14 L346.29 166.75 L346.56 167.36 L346.82 167.98 L347.09 168.59 L347.36 169.21 L347.62 169.82 L347.89 170.44 L348.15 171.06 L348.41 171.67 L348.68 172.29 L348.94 172.91 L349.20 173.53 L349.46 174.14 L349.72 174.76 L349.98 175.38 L350.24 176.00 L350.50 176.62 L350.76 177.24 L351.01 177.86 L351.27 178.47 L351.53 179.09 L351.78 179.71 L352.04 180.33 L352.29 180.95 L352.55 181.58 L352.80 182.20 L353.06 182.82 L353.31 183.44 L353.57 184.06 L353.82 184.68 L354.07 185.30 L354.33 185.92 L354.58 186.54 L354.84 187.16 L355.09 187.78 L355.34 188.41 L355.59 189.03 L355.85 189.65 L356.10 190.27 L356.35 190.89 L356.61 191.51 L356.86 192.13 L357.11 192.75 L357.37 193.38 L357.62 194.00 L357.88 194.62 L358.13 195.24 L358.39 195.86 L358.64 196.48 L358.90 197.10 L359.15 197.72 L359.41 198.34 L359.66 198.96 L359.92 199.58 L360.18 200.20 L360.43 200.82 L360.69 201.44 L360.95 202.05 L361.21 202.67 L361.47 203.29 L361.73 203.91 L361.99 204.53 L362.25 205.14 L362.51 205.76 L362.78 206.38 L363.04 206.99 L363.31 207.61 L363.57 208.23 L363.84 208.84 L364.10 209.46 L364.37 210.07 L364.64 210.69 L364.91 211.30 L365.18 211.91 L365.45 212.53 L365.72 213.14 L365.99 213.75 L366.27 214.36 L366.54 214.97 L366.82 215.58 L367.10 216.19 L367.37 216.80 L367.65 217.41 L367.94 218.02 L368.22 218.63 L368.50 219.24 L368.78 219.84 L369.07 220.45 L369.36 221.05 L369.64 221.66 L369.93 222.26 L370.23 222.87 L370.52 223.47 L370.81 224.07 L371.11 224.68 L371.40 225.28 L371.70 225.88 L372.00 226.48 L372.30 227.08 L372.60 227.67 L372.91 228.27 L373.21 228.87 L373.52 229.46 L373.83 230.06 L374.14 230.65 L374.46 231.25 L374.77 231.84 L375.09 232.43 L375.40 233.02 L375.72 233.61 L376.05 234.20 L376.37 234.79 L376.69 235.38 L377.02 235.97 L377.35 236.55 L377.68 237.14 L378.02 237.72 L378.35 238.30 L378.69 238.89 L379.03 239.47 L379.37 240.05 L379.71 240.63 L380.06 241.21 L380.41 241.78 L380.76 242.36 L381.11 242.93 L381.46 243.51 L381.82 244.08 L382.18 244.65 L382.54 245.23 L382.91 245.80 L383.27 246.36 L383.64 246.93 L384.01 247.50 L384.39 248.06 L384.76 248.63 L385.14 249.19 L385.52 249.75 L385.90 250.31 L386.29 250.87 L386.68 251.43 L387.07 251.99 L387.47 252.55 L387.86 253.10 L388.26 253.65 L388.66 254.21 L389.07 254.76 L389.48 255.31 L389.89 255.85 L390.30 256.40 L390.72 256.95 L391.14 257.49 L391.56 258.03 L391.98 258.57 L392.41 259.11 L392.84 259.64 L393.28 260.17 L393.72 260.70 L394.16 261.21 L394.61 261.73 L395.06 262.23 L395.51 262.73 L395.97 263.23 L396.43 263.71 L396.90 264.19 L397.37 264.65 L397.85 265.11 L398.33 265.55 L398.82 265.99 L399.31 266.41 L399.80 266.83 L400.30 267.23 L400.81 267.61 L401.32 267.99 L401.84 268.35 L402.36 268.69 L402.89 269.02 L403.42 269.33 L403.96 269.63 L404.51 269.91 L405.06 270.17 L405.62 270.42 L406.19 270.64 L406.76 270.85 L407.34 271.04 L407.92 271.21 L408.51 271.35 L409.11 271.48 L409.72 271.58 L410.33 271.66 L410.95 271.72 L411.58 271.76 L412.22 271.77 L412.86 271.76 L413.51 271.72 L414.16 271.67 L414.81 271.59 L415.47 271.49 L416.14 271.38 L416.80 271.24 L417.46 271.09 L418.13 270.92 L418.79 270.73 L419.45 270.53 L420.11 270.31 L420.76 270.08 L421.41 269.83 L422.05 269.58 L422.69 269.31 L423.32 269.02 L423.95 268.73 L424.56 268.42 L425.17 268.11 L425.78 267.79 L426.38 267.45 L426.97 267.11 L427.55 266.76 L428.13 266.40 L428.71 266.04 L429.27 265.66 L429.84 265.29 L430.40 264.90 L430.95 264.51 L431.50 264.12 L432.04 263.72 L432.58 263.31 L433.11 262.90 L433.64 262.49 L434.17 262.08 L434.69 261.66 L435.21 261.24 L435.73 260.82 L436.24 260.39 L436.75 259.96 L437.26 259.53 L437.76 259.10 L438.26 258.66 L438.76 258.23 L439.25 257.79 L439.74 257.34 L440.23 256.90 L440.72 256.45 L441.20 256.01 L441.68 255.56 L442.16 255.11 L442.64 254.65 L443.12 254.20 L443.60 253.75 L444.07 253.29 L444.54 252.83 L445.01 252.37 L445.48 251.91 L445.95 251.45 L446.42 250.99 L446.89 250.53 L447.36 250.07 L447.82 249.61 L448.29 249.15 L448.76 248.68 L449.22 248.22 L449.69 247.76 L450.16 247.30 L450.62 246.83 L451.09 246.37 L451.56 245.91 L452.03 245.45 L452.50 244.99 L452.97 244.53 L453.44 244.07 L453.91 243.61 L454.38 243.16 L454.86 242.70 L455.34 242.25 L455.81 241.79 L456.30 241.34 L456.78 240.89 L457.26 240.44 L457.75 239.99 L458.24 239.55 L458.73 239.10 L459.22 238.66 L459.72 238.22 L460.22 237.79 L460.72 237.35 L461.23 236.92 L461.74 236.49 L462.25 236.06 L462.76 235.64 L463.28 235.21 L463.80 234.79 L464.33 234.38 L464.86 233.96 L465.40 233.55 L465.93 233.15 L466.48 232.74 L467.02 232.35 L467.57 231.95 L468.13 231.56 L468.68 231.17 L469.24 230.79 L469.81 230.41 L470.38 230.04 L470.95 229.67 L471.52 229.30 L472.10 228.95 L472.68 228.59 L473.26 228.25 L473.85 227.90 L474.43 227.57 L475.03 227.24 L475.62 226.92 L476.22 226.60 L476.82 226.29 L477.42 225.99 L478.02 225.69 L478.63 225.40 L479.24 225.12 L479.85 224.85 L480.46 224.58 L481.07 224.32 L481.69 224.07 L482.31 223.83 L482.93 223.60 L483.55 223.37 L484.17 223.16 L484.80 222.95 L485.43 222.75 L486.05 222.56 L486.68 222.38 L487.31 222.21 L487.94 222.05 L488.58 221.90 L489.21 221.77 L489.84 221.64 L490.48 221.52 L491.11 221.41 L491.75 221.31 L492.39 221.22 L493.02 221.15 L493.66 221.09 L494.30 221.03 L494.94 220.99 L495.58 220.96 L496.22 220.95 L496.86 220.94 L497.49 220.95 L498.13 220.96 L498.77 220.99 L499.41 221.03 L500.04 221.07 L500.68 221.13 L501.31 221.19 L501.94 221.27 L502.57 221.35 L503.20 221.44 L503.83 221.54 L504.45 221.65 L505.08 221.76 L505.70 221.88 L506.31 222.01 L506.93 222.15 L507.54 222.29 L508.15 222.43 L508.76 222.58 L509.36 222.74 L509.96 222.90 L510.55 223.07 L511.14 223.24 L511.73 223.42 L512.31 223.60 L512.89 223.78 L513.47 223.96 L514.04 224.15 L514.60 224.34 L515.16 224.53 L515.72 224.73 L516.27 224.92 L516.81 225.12 L517.35 225.32 L517.88 225.52 L518.41 225.72 L518.93 225.92 L519.45 226.13 L519.97 226.34 L520.48 226.55 L520.99 226.76 L521.49 226.97 L521.99 227.19 L522.50 227.42 L522.99 227.64 L523.49 227.88 L523.99 228.11 L524.48 228.35 L524.98 228.60 L525.47 228.85 L525.97 229.11 L526.46 229.37 L526.96 229.64 L527.46 229.92 L527.95 230.20 L528.46 230.49 L528.96 230.79 L529.47 231.09 L529.97 231.40 L530.49 231.73 L531.00 232.06 L531.52 232.39 L532.04 232.74 L532.57 233.10 L533.10 233.46 L533.63 233.84 L534.17 234.22 L534.71 234.61 L535.26 235.02 L535.82 235.43 L536.38 235.86 L536.94 236.29" stroke="#ff5100" stroke-dasharray="10.4 11.77"/>
<path d="M62.85 300.48 L63.43 300.30 L64.00 300.11 L64.57 299.92 L65.14 299.73 L65.71 299.55 L66.28 299.36 L66.86 299.17 L67.43 298.98 L68.00 298.79 L68.57 298.60 L69.14 298.41 L69.71 298.22 L70.28 298.03 L70.86 297.84 L71.43 297.65 L72.00 297.46 L72.57 297.27 L73.14 297.08 L73.71 296.88 L74.29 296.69 L74.86 296.50 L75.43 296.31 L76.00 296.12 L76.57 295.92 L77.15 295.73 L77.72 295.54 L78.29 295.35 L78.86 295.15 L79.43 294.96 L80.01 294.77 L80.58 294.57 L81.15 294.38 L81.73 294.19 L82.30 294.00 L82.87 293.80 L83.44 293.61 L84.02 293.42 L84.59 293.23 L85.17 293.03 L85.74 292.84 L86.31 292.65 L86.89 292.46 L87.46 292.26 L88.04 292.07 L88.61 291.88 L89.19 291.69 L89.76 291.50 L90.34 291.31 L90.91 291.12 L91.49 290.93 L92.07 290.74 L92.64 290.55 L93.22 290.36 L93.80 290.17 L94.37 289.98 L94.95 289.79 L95.53 289.60 L96.11 289.41 L96.68 289.23 L97.26 289.04 L97.84 288.85 L98.42 288.66 L99.00 288.48 L99.58 288.29 L100.16 288.11 L100.74 287.92 L101.32 287.74 L101.90 287.56 L102.48 287.37 L103.06 287.19 L103.64 287.01 L104.23 286.83 L104.81 286.65 L105.39 286.46 L105.98 286.28 L106.56 286.11 L107.14 285.93 L107.73 285.75 L108.31 285.57 L108.90 285.40 L109.48 285.22 L110.07 285.04 L110.65 284.87 L111.24 284.70 L111.83 284.52 L112.42 284.35 L113.00 284.18 L113.59 284.01 L114.18 283.84 L114.77 283.66 L115.36 283.49 L115.95 283.33 L116.54 283.16 L117.13 282.99 L117.72 282.82 L118.31 282.65 L118.90 282.48 L119.49 282.31 L120.08 282.15 L120.67 281.98 L121.26 281.81 L121.85 281.64 L122.44 281.47 L123.03 281.31 L123.62 281.14 L124.21 280.97 L124.80 280.80 L125.39 280.63 L125.98 280.46 L126.57 280.29 L127.16 280.12 L127.75 279.95 L128.34 279.78 L128.93 279.61 L129.52 279.44 L130.11 279.27 L130.69 279.10 L131.28 278.92 L131.87 278.75 L132.46 278.58 L133.04 278.40 L133.63 278.23 L134.22 278.05 L134.80 277.87 L135.39 277.69 L135.97 277.51 L136.56 277.33 L137.14 277.15 L137.73 276.97 L138.31 276.79 L138.89 276.60 L139.47 276.42 L140.05 276.23 L140.63 276.04 L141.21 275.85 L141.79 275.66 L142.37 275.47 L142.95 275.28 L143.52 275.08 L144.10 274.88 L144.68 274.69 L145.25 274.49 L145.82 274.29 L146.40 274.08 L146.97 273.88 L147.54 273.67 L148.11 273.47 L148.68 273.26 L149.25 273.05 L149.81 272.83 L150.38 272.62 L150.95 272.40 L151.51 272.18 L152.07 271.96 L152.64 271.74 L153.20 271.51 L153.76 271.29 L154.31 271.06 L154.87 270.82 L155.43 270.59 L155.98 270.35 L156.54 270.12 L157.09 269.88 L157.64 269.63 L158.19 269.39 L158.74 269.14 L159.29 268.89 L159.83 268.64 L160.38 268.38 L160.92 268.12 L161.46 267.86 L162.00 267.60 L162.54 267.33 L163.08 267.06 L163.62 266.79 L164.15 266.52 L164.68 266.24 L165.22 265.96 L165.75 265.67 L166.27 265.39 L166.80 265.10 L167.33 264.80 L167.85 264.51 L168.37 264.21 L168.89 263.91 L169.41 263.60 L169.93 263.30 L170.44 262.98 L170.95 262.67 L171.46 262.35 L171.97 262.03 L172.48 261.71 L172.99 261.38 L173.49 261.05 L173.99 260.71 L174.49 260.38 L174.99 260.04 L175.48 259.69 L175.98 259.34 L176.47 258.99 L176.96 258.64 L177.45 258.28 L177.93 257.92 L178.42 257.56 L178.90 257.19 L179.38 256.82 L179.86 256.45 L180.33 256.07 L180.81 255.70 L181.28 255.32 L181.75 254.93 L182.22 254.55 L182.69 254.16 L183.15 253.77 L183.62 253.37 L184.08 252.98 L184.54 252.58 L184.99 252.18 L185.45 251.77 L185.90 251.37 L186.36 250.96 L186.81 250.55 L187.25 250.14 L187.70 249.73 L188.15 249.31 L188.59 248.89 L189.03 248.47 L189.47 248.05 L189.91 247.63 L190.34 247.20 L190.78 246.78 L191.21 246.35 L191.64 245.92 L192.07 245.49 L192.50 245.05 L192.92 244.62 L193.35 244.18 L193.77 243.75 L194.19 243.31 L194.61 242.87 L195.03 242.42 L195.44 241.98 L195.86 241.54 L196.27 241.09 L196.68 240.64 L197.09 240.19 L197.50 239.74 L197.90 239.29 L198.31 238.84 L198.71 238.38 L199.11 237.93 L199.51 237.47 L199.91 237.01 L200.30 236.55 L200.70 236.09 L201.09 235.63 L201.49 235.17 L201.88 234.70 L202.27 234.23 L202.65 233.77 L203.04 233.30 L203.42 232.83 L203.81 232.36 L204.19 231.88 L204.57 231.41 L204.95 230.94 L205.33 230.46 L205.70 229.98 L206.08 229.50 L206.45 229.03 L206.82 228.54 L207.19 228.06 L207.56 227.58 L207.93 227.10 L208.30 226.61 L208.66 226.13 L209.03 225.64 L209.39 225.15 L209.75 224.66 L210.11 224.17 L210.47 223.68 L210.83 223.19 L211.19 222.70 L211.54 222.20 L211.90 221.71 L212.25 221.21 L212.60 220.71 L212.95 220.22 L213.30 219.72 L213.65 219.22 L214.00 218.72 L214.34 218.22 L214.69 217.71 L215.03 217.21 L215.37 216.71 L215.71 216.20 L216.05 215.70 L216.39 215.19 L216.73 214.68 L217.07 214.18 L217.40 213.67 L217.74 213.16 L218.07 212.65 L218.41 212.14 L218.74 211.62 L219.07 211.11 L219.40 210.60 L219.73 210.09 L220.05 209.57 L220.38 209.06 L220.71 208.54 L221.03 208.02 L221.36 207.51 L221.68 206.99 L222.00 206.47 L222.32 205.95 L222.64 205.43 L222.96 204.91 L223.28 204.39 L223.60 203.87 L223.91 203.35 L224.23 202.83 L224.54 202.30 L224.86 201.78 L225.17 201.26 L225.48 200.73 L225.80 200.21 L226.11 199.68 L226.42 199.16 L226.73 198.63 L227.03 198.10 L227.34 197.58 L227.65 197.05 L227.95 196.52 L228.26 195.99 L228.57 195.46 L228.87 194.94 L229.17 194.41 L229.48 193.88 L229.78 193.35 L230.08 192.82 L230.38 192.29 L230.68 191.76 L230.98 191.22 L231.28 190.69 L231.58 190.16 L231.87 189.63 L232.17 189.10 L232.47 188.57 L232.76 188.03 L233.06 187.50 L233.35 186.97 L233.65 186.43 L233.94 185.90 L234.23 185.37 L234.52 184.83 L234.82 184.30 L235.11 183.77 L235.40 183.23 L235.69 182.70 L235.98 182.16 L236.27 181.63 L236.56 181.10 L236.85 180.56 L237.13 180.03 L237.42 179.49 L237.71 178.96 L238.00 178.43 L238.28 177.89 L238.57 177.36 L238.85 176.82 L239.14 176.29 L239.42 175.75 L239.71 175.22 L239.99 174.69 L240.28 174.15 L240.56 173.62 L240.84 173.09 L241.13 172.55 L241.41 172.02 L241.69 171.48 L241.97 170.95 L242.26 170.42 L242.54 169.89 L242.82 169.35 L243.10 168.82 L243.38 168.29 L243.66 167.76 L243.94 167.23 L244.22 166.69 L244.50 166.16 L244.78 165.63 L245.06 165.10 L245.34 164.57 L245.62 164.04 L245.90 163.51 L246.18 162.98 L246.46 162.45 L246.74 161.92 L247.02 161.39 L247.30 160.86 L247.57 160.33 L247.85 159.80 L248.13 159.27 L248.41 158.75 L248.68 158.22 L248.96 157.69 L249.24 157.16 L249.51 156.63 L249.79 156.10 L250.06 155.57 L250.34 155.04 L250.62 154.51 L250.89 153.98 L251.17 153.45 L251.44 152.92 L251.72 152.39 L251.99 151.86 L252.26 151.33 L252.54 150.80 L252.81 150.27 L253.08 149.74 L253.36 149.21 L253.63 148.68 L253.90 148.15 L254.17 147.62 L254.45 147.09 L254.72 146.55 L254.99 146.02 L255.26 145.49 L255.53 144.96 L255.80 144.42 L256.07 143.89 L256.34 143.36 L256.61 142.82 L256.88 142.29 L257.15 141.75 L257.42 141.21 L257.69 140.68 L257.95 140.14 L258.22 139.61 L258.49 139.07 L258.76 138.53 L259.02 137.99 L259.29 137.45 L259.56 136.92 L259.82 136.38 L260.09 135.84 L260.35 135.30 L260.62 134.76 L260.88 134.22 L261.15 133.68 L261.41 133.14 L261.68 132.60 L261.94 132.05 L262.21 131.51 L262.47 130.97 L262.74 130.43 L263.00 129.88 L263.26 129.34 L263.53 128.80 L263.79 128.25 L264.05 127.71 L264.31 127.17 L264.58 126.62 L264.84 126.08 L265.10 125.53 L265.36 124.99 L265.62 124.44 L265.89 123.89 L266.15 123.35 L266.41 122.80 L266.67 122.26 L266.93 121.71 L267.19 121.16 L267.45 120.62 L267.71 120.07 L267.97 119.52 L268.23 118.97 L268.49 118.42 L268.75 117.88 L269.01 117.33 L269.27 116.78 L269.53 116.23 L269.79 115.68 L270.05 115.13 L270.31 114.58 L270.57 114.03 L270.83 113.49 L271.09 112.94 L271.35 112.39 L271.61 111.84 L271.87 111.29 L272.13 110.74 L272.39 110.19 L272.65 109.63 L272.91 109.08 L273.17 108.53 L273.42 107.98 L273.68 107.43 L273.94 106.88 L274.20 106.33 L274.46 105.78 L274.72 105.23 L274.98 104.68 L275.24 104.13 L275.50 103.57 L275.75 103.02 L276.01 102.47 L276.27 101.92 L276.53 101.37 L276.79 100.82 L277.05 100.26 L277.31 99.71 L277.57 99.16 L277.83 98.61 L278.09 98.06 L278.34 97.51 L278.60 96.95 L278.86 96.40 L279.12 95.85 L279.38 95.30 L279.64 94.75 L279.90 94.19 L280.16 93.64 L280.42 93.09 L280.68 92.54 L280.94 91.99 L281.20 91.44 L281.46 90.88 L281.72 90.33 L281.98 89.78 L282.24 89.23 L282.50 88.68 L282.76 88.13 L283.02 87.58 L283.28 87.02 L283.55 86.47 L283.81 85.92 L284.07 85.37 L284.33 84.82 L284.59 84.27 L284.85 83.72 L285.12 83.17 L285.38 82.62 L285.64 82.07 L285.90 81.52 L286.17 80.97 L286.43 80.42 L286.69 79.87 L286.95 79.32 L287.22 78.77 L287.48 78.22 L287.75 77.67 L288.01 77.12 L288.27 76.57 L288.54 76.02 L288.80 75.48 L289.07 74.93 L289.33 74.38 L289.60 73.83 L289.86 73.28 L290.13 72.74 L290.40 72.19 L290.66 71.64 L290.93 71.09 L291.20 70.55 L291.46 70.00 L291.73 69.46 L292.00 68.91 L292.27 68.36 L292.54 67.82 L292.80 67.27 L293.07 66.73 L293.34 66.18 L293.61 65.64 L293.88 65.09 L294.15 64.55 L294.42 64.01 L294.69 63.46 L294.96 62.92 L295.23 62.38 L295.51 61.84 L295.78 61.29 L296.05 60.75 L296.32 60.21 L296.60 59.67 L296.87 59.13 L297.14 58.59 L297.42 58.05 L297.69 57.51 L297.97 56.97 L298.24 56.43 L298.52 55.89 L298.79 55.35 L299.07 54.81 L299.35 54.27 L299.62 53.74 L299.90 53.20 L300.18 53.74 L300.45 54.27 L300.73 54.81 L301.01 55.35 L301.28 55.89 L301.56 56.43 L301.83 56.97 L302.11 57.51 L302.38 58.05 L302.66 58.59 L302.93 59.13 L303.20 59.67 L303.48 60.21 L303.75 60.75 L304.02 61.29 L304.29 61.84 L304.57 62.38 L304.84 62.92 L305.11 63.46 L305.38 64.01 L305.65 64.55 L305.92 65.09 L306.19 65.64 L306.46 66.18 L306.73 66.73 L307.00 67.27 L307.26 67.82 L307.53 68.36 L307.80 68.91 L308.07 69.46 L308.34 70.00 L308.60 70.55 L308.87 71.09 L309.14 71.64 L309.40 72.19 L309.67 72.74 L309.94 73.28 L310.20 73.83 L310.47 74.38 L310.73 74.93 L311.00 75.48 L311.26 76.02 L311.53 76.57 L311.79 77.12 L312.05 77.67 L312.32 78.22 L312.58 78.77 L312.85 79.32 L313.11 79.87 L313.37 80.42 L313.63 80.97 L313.90 81.52 L314.16 82.07 L314.42 82.62 L314.68 83.17 L314.95 83.72 L315.21 84.27 L315.47 84.82 L315.73 85.37 L315.99 85.92 L316.25 86.47 L316.52 87.02 L316.78 87.58 L317.04 88.13 L317.30 88.68 L317.56 89.23 L317.82 89.78 L318.08 90.33 L318.34 90.88 L318.60 91.44 L318.86 91.99 L319.12 92.54 L319.38 93.09 L319.64 93.64 L319.90 94.19 L320.16 94.75 L320.42 95.30 L320.68 95.85 L320.94 96.40 L321.20 96.95 L321.46 97.51 L321.71 98.06 L321.97 98.61 L322.23 99.16 L322.49 99.71 L322.75 100.26 L323.01 100.82 L323.27 101.37 L323.53 101.92 L323.79 102.47 L324.05 103.02 L324.30 103.57 L324.56 104.13 L324.82 104.68 L325.08 105.23 L325.34 105.78 L325.60 106.33 L325.86 106.88 L326.12 107.43 L326.38 107.98 L326.63 108.53 L326.89 109.08 L327.15 109.63 L327.41 110.19 L327.67 110.74 L327.93 111.29 L328.19 111.84 L328.45 112.39 L328.71 112.94 L328.97 113.49 L329.23 114.03 L329.49 114.58 L329.75 115.13 L330.01 115.68 L330.27 116.23 L330.53 116.78 L330.79 117.33 L331.05 117.88 L331.31 118.42 L331.57 118.97 L331.83 119.52 L332.09 120.07 L332.35 120.62 L332.61 121.16 L332.87 121.71 L333.13 122.26 L333.39 122.80 L333.65 123.35 L333.91 123.89 L334.18 124.44 L334.44 124.99 L334.70 125.53 L334.96 126.08 L335.22 126.62 L335.49 127.17 L335.75 127.71 L336.01 128.25 L336.27 128.80 L336.54 129.34 L336.80 129.88 L337.06 130.43 L337.33 130.97 L337.59 131.51 L337.86 132.05 L338.12 132.60 L338.39 133.14 L338.65 133.68 L338.92 134.22 L339.18 134.76 L339.45 135.30 L339.71 135.84 L339.98 136.38 L340.24 136.92 L340.51 137.45 L340.78 137.99 L341.04 138.53 L341.31 139.07 L341.58 139.61 L341.85 140.14 L342.11 140.68 L342.38 141.21 L342.65 141.75 L342.92 142.29 L343.19 142.82 L343.46 143.36 L343.73 143.89 L344.00 144.42 L344.27 144.96 L344.54 145.49 L344.81 146.02 L345.08 146.55 L345.35 147.09 L345.63 147.62 L345.90 148.15 L346.17 148.68 L346.44 149.21 L346.72 149.74 L346.99 150.27 L347.26 150.80 L347.54 151.33 L347.81 151.86 L348.08 152.39 L348.36 152.92 L348.63 153.45 L348.91 153.98 L349.18 154.51 L349.46 155.04 L349.74 155.57 L350.01 156.10 L350.29 156.63 L350.56 157.16 L350.84 157.69 L351.12 158.22 L351.39 158.75 L351.67 159.27 L351.95 159.80 L352.23 160.33 L352.50 160.86 L352.78 161.39 L353.06 161.92 L353.34 162.45 L353.62 162.98 L353.90 163.51 L354.18 164.04 L354.46 164.57 L354.74 165.10 L355.02 165.63 L355.30 166.16 L355.58 166.69 L355.86 167.23 L356.14 167.76 L356.42 168.29 L356.70 168.82 L356.98 169.35 L357.26 169.89 L357.54 170.42 L357.83 170.95 L358.11 171.48 L358.39 172.02 L358.67 172.55 L358.96 173.09 L359.24 173.62 L359.52 174.15 L359.81 174.69 L360.09 175.22 L360.38 175.75 L360.66 176.29 L360.95 176.82 L361.23 177.36 L361.52 177.89 L361.80 178.43 L362.09 178.96 L362.38 179.49 L362.67 180.03 L362.95 180.56 L363.24 181.10 L363.53 181.63 L363.82 182.16 L364.11 182.70 L364.40 183.23 L364.69 183.77 L364.98 184.30 L365.28 184.83 L365.57 185.37 L365.86 185.90 L366.15 186.43 L366.45 186.97 L366.74 187.50 L367.04 188.03 L367.33 188.57 L367.63 189.10 L367.93 189.63 L368.22 190.16 L368.52 190.69 L368.82 191.22 L369.12 191.76 L369.42 192.29 L369.72 192.82 L370.02 193.35 L370.32 193.88 L370.63 194.41 L370.93 194.94 L371.23 195.46 L371.54 195.99 L371.85 196.52 L372.15 197.05 L372.46 197.58 L372.77 198.10 L373.07 198.63 L373.38 199.16 L373.69 199.68 L374.00 200.21 L374.32 200.73 L374.63 201.26 L374.94 201.78 L375.26 202.30 L375.57 202.83 L375.89 203.35 L376.20 203.87 L376.52 204.39 L376.84 204.91 L377.16 205.43 L377.48 205.95 L377.80 206.47 L378.12 206.99 L378.44 207.51 L378.77 208.02 L379.09 208.54 L379.42 209.06 L379.75 209.57 L380.07 210.09 L380.40 210.60 L380.73 211.11 L381.06 211.62 L381.39 212.14 L381.73 212.65 L382.06 213.16 L382.40 213.67 L382.73 214.18 L383.07 214.68 L383.41 215.19 L383.75 215.70 L384.09 216.20 L384.43 216.71 L384.77 217.21 L385.11 217.71 L385.46 218.22 L385.80 218.72 L386.15 219.22 L386.50 219.72 L386.85 220.22 L387.20 220.71 L387.55 221.21 L387.90 221.71 L388.26 222.20 L388.61 222.70 L388.97 223.19 L389.33 223.68 L389.69 224.17 L390.05 224.66 L390.41 225.15 L390.77 225.64 L391.14 226.13 L391.50 226.61 L391.87 227.10 L392.24 227.58 L392.61 228.06 L392.98 228.54 L393.35 229.03 L393.72 229.50 L394.10 229.98 L394.47 230.46 L394.85 230.94 L395.23 231.41 L395.61 231.88 L395.99 232.36 L396.38 232.83 L396.76 233.30 L397.15 233.77 L397.53 234.23 L397.92 234.70 L398.31 235.17 L398.71 235.63 L399.10 236.09 L399.50 236.55 L399.89 237.01 L400.29 237.47 L400.69 237.93 L401.09 238.38 L401.49 238.84 L401.90 239.29 L402.30 239.74 L402.71 240.19 L403.12 240.64 L403.53 241.09 L403.94 241.54 L404.36 241.98 L404.77 242.42 L405.19 242.87 L405.61 243.31 L406.03 243.75 L406.45 244.18 L406.88 244.62 L407.30 245.05 L407.73 245.49 L408.16 245.92 L408.59 246.35 L409.02 246.78 L409.46 247.20 L409.89 247.63 L410.33 248.05 L410.77 248.47 L411.21 248.89 L411.65 249.31 L412.10 249.73 L412.55 250.14 L412.99 250.55 L413.44 250.96 L413.90 251.37 L414.35 251.77 L414.81 252.18 L415.26 252.58 L415.72 252.98 L416.18 253.37 L416.65 253.77 L417.11 254.16 L417.58 254.55 L418.05 254.93 L418.52 255.32 L418.99 255.70 L419.47 256.07 L419.94 256.45 L420.42 256.82 L420.90 257.19 L421.38 257.56 L421.87 257.92 L422.35 258.28 L422.84 258.64 L423.33 258.99 L423.82 259.34 L424.32 259.69 L424.81 260.04 L425.31 260.38 L425.81 260.71 L426.31 261.05 L426.81 261.38 L427.32 261.71 L427.83 262.03 L428.34 262.35 L428.85 262.67 L429.36 262.98 L429.87 263.30 L430.39 263.60 L430.91 263.91 L431.43 264.21 L431.95 264.51 L432.47 264.80 L433.00 265.10 L433.53 265.39 L434.05 265.67 L434.58 265.96 L435.12 266.24 L435.65 266.52 L436.18 266.79 L436.72 267.06 L437.26 267.33 L437.80 267.60 L438.34 267.86 L438.88 268.12 L439.42 268.38 L439.97 268.64 L440.51 268.89 L441.06 269.14 L441.61 269.39 L442.16 269.63 L442.71 269.88 L443.26 270.12 L443.82 270.35 L444.37 270.59 L444.93 270.82 L445.49 271.06 L446.04 271.29 L446.60 271.51 L447.16 271.74 L447.73 271.96 L448.29 272.18 L448.85 272.40 L449.42 272.62 L449.99 272.83 L450.55 273.05 L451.12 273.26 L451.69 273.47 L452.26 273.67 L452.83 273.88 L453.40 274.08 L453.98 274.29 L454.55 274.49 L455.12 274.69 L455.70 274.88 L456.28 275.08 L456.85 275.28 L457.43 275.47 L458.01 275.66 L458.59 275.85 L459.17 276.04 L459.75 276.23 L460.33 276.42 L460.91 276.60 L461.49 276.79 L462.07 276.97 L462.66 277.15 L463.24 277.33 L463.83 277.51 L464.41 277.69 L465.00 277.87 L465.58 278.05 L466.17 278.23 L466.76 278.40 L467.34 278.58 L467.93 278.75 L468.52 278.92 L469.11 279.10 L469.69 279.27 L470.28 279.44 L470.87 279.61 L471.46 279.78 L472.05 279.95 L472.64 280.12 L473.23 280.29 L473.82 280.46 L474.41 280.63 L475.00 280.80 L475.59 280.97 L476.18 281.14 L476.77 281.31 L477.36 281.47 L477.95 281.64 L478.54 281.81 L479.13 281.98 L479.72 282.15 L480.31 282.31 L480.90 282.48 L481.49 282.65 L482.08 282.82 L482.67 282.99 L483.26 283.16 L483.85 283.33 L484.44 283.49 L485.03 283.66 L485.62 283.84 L486.21 284.01 L486.80 284.18 L487.38 284.35 L487.97 284.52 L488.56 284.70 L489.15 284.87 L489.73 285.04 L490.32 285.22 L490.90 285.40 L491.49 285.57 L492.07 285.75 L492.66 285.93 L493.24 286.11 L493.82 286.28 L494.41 286.46 L494.99 286.65 L495.57 286.83 L496.16 287.01 L496.74 287.19 L497.32 287.37 L497.90 287.56 L498.48 287.74 L499.06 287.92 L499.64 288.11 L500.22 288.29 L500.80 288.48 L501.38 288.66 L501.96 288.85 L502.54 289.04 L503.12 289.23 L503.69 289.41 L504.27 289.60 L504.85 289.79 L505.43 289.98 L506.00 290.17 L506.58 290.36 L507.16 290.55 L507.73 290.74 L508.31 290.93 L508.89 291.12 L509.46 291.31 L510.04 291.50 L510.61 291.69 L511.19 291.88 L511.76 292.07 L512.34 292.26 L512.91 292.46 L513.49 292.65 L514.06 292.84 L514.63 293.03 L515.21 293.23 L515.78 293.42 L516.36 293.61 L516.93 293.80 L517.50 294.00 L518.07 294.19 L518.65 294.38 L519.22 294.57 L519.79 294.77 L520.37 294.96 L520.94 295.15 L521.51 295.35 L522.08 295.54 L522.65 295.73 L523.23 295.92 L523.80 296.12 L524.37 296.31 L524.94 296.50 L525.51 296.69 L526.09 296.88 L526.66 297.08 L527.23 297.27 L527.80 297.46 L528.37 297.65 L528.94 297.84 L529.52 298.03 L530.09 298.22 L530.66 298.41 L531.23 298.60 L531.80 298.79 L532.37 298.98 L532.94 299.17 L533.52 299.36 L534.09 299.55 L534.66 299.73 L535.23 299.92 L535.80 300.11 L536.37 300.30 L536.95 300.48" stroke="#ffa900"/>
<path d="M62.91 215.00 L63.60 214.73 L64.29 214.45 L64.98 214.18 L65.67 213.91 L66.35 213.64 L67.04 213.37 L67.72 213.10 L68.40 212.84 L69.08 212.58 L69.76 212.32 L70.44 212.06 L71.12 211.81 L71.80 211.57 L72.48 211.33 L73.15 211.09 L73.83 210.86 L74.51 210.64 L75.18 210.42 L75.86 210.21 L76.54 210.01 L77.22 209.82 L77.90 209.64 L78.58 209.46 L79.26 209.29 L79.94 209.14 L80.62 208.99 L81.31 208.85 L82.00 208.73 L82.68 208.62 L83.37 208.52 L84.07 208.43 L84.76 208.35 L85.46 208.29 L86.16 208.24 L86.86 208.20 L87.57 208.18 L88.27 208.18 L88.98 208.19 L89.70 208.21 L90.41 208.25 L91.13 208.31 L91.85 208.38 L92.57 208.46 L93.29 208.56 L94.01 208.68 L94.73 208.80 L95.44 208.94 L96.16 209.09 L96.86 209.26 L97.57 209.44 L98.27 209.63 L98.96 209.83 L99.65 210.04 L100.33 210.26 L101.00 210.49 L101.67 210.74 L102.33 210.99 L102.98 211.25 L103.62 211.52 L104.25 211.81 L104.88 212.10 L105.50 212.39 L106.11 212.70 L106.71 213.01 L107.31 213.33 L107.89 213.67 L108.47 214.01 L109.05 214.35 L109.61 214.71 L110.17 215.08 L110.73 215.46 L111.28 215.85 L111.82 216.25 L112.36 216.66 L112.89 217.08 L113.42 217.51 L113.95 217.95 L114.47 218.41 L114.99 218.87 L115.50 219.34 L116.01 219.83 L116.52 220.32 L117.03 220.82 L117.53 221.32 L118.04 221.83 L118.54 222.35 L119.04 222.87 L119.53 223.39 L120.03 223.92 L120.53 224.45 L121.02 224.99 L121.51 225.52 L122.01 226.06 L122.50 226.59 L123.00 227.13 L123.49 227.66 L123.98 228.20 L124.47 228.74 L124.97 229.27 L125.46 229.81 L125.95 230.35 L126.44 230.90 L126.92 231.44 L127.41 231.98 L127.90 232.53 L128.39 233.08 L128.87 233.63 L129.35 234.18 L129.84 234.73 L130.32 235.28 L130.80 235.84 L131.27 236.40 L131.75 236.96 L132.23 237.53 L132.70 238.09 L133.17 238.66 L133.64 239.23 L134.11 239.81 L134.57 240.38 L135.04 240.97 L135.50 241.55 L135.96 242.13 L136.42 242.72 L136.88 243.31 L137.33 243.91 L137.78 244.50 L138.23 245.10 L138.68 245.70 L139.13 246.30 L139.58 246.90 L140.02 247.51 L140.47 248.12 L140.91 248.72 L141.35 249.33 L141.79 249.95 L142.23 250.56 L142.66 251.17 L143.10 251.78 L143.53 252.40 L143.97 253.02 L144.40 253.63 L144.83 254.25 L145.26 254.87 L145.69 255.48 L146.12 256.10 L146.54 256.72 L146.97 257.34 L147.40 257.96 L147.82 258.57 L148.24 259.19 L148.67 259.81 L149.09 260.42 L149.51 261.04 L149.93 261.65 L150.35 262.27 L150.77 262.88 L151.19 263.49 L151.61 264.10 L152.03 264.71 L152.45 265.32 L152.87 265.93 L153.29 266.53 L153.70 267.14 L154.12 267.74 L154.54 268.34 L154.96 268.94 L155.37 269.53 L155.79 270.13 L156.21 270.72 L156.63 271.31 L157.04 271.89 L157.46 272.47 L157.88 273.05 L158.30 273.63 L158.72 274.21 L159.13 274.78 L159.55 275.35 L159.97 275.91 L160.39 276.47 L160.81 277.03 L161.23 277.58 L161.66 278.13 L162.08 278.68 L162.50 279.22 L162.92 279.76 L163.35 280.30 L163.77 280.83 L164.20 281.36 L164.62 281.89 L165.05 282.41 L165.48 282.94 L165.91 283.45 L166.34 283.97 L166.78 284.47 L167.22 284.98 L167.67 285.48 L168.12 285.97 L168.58 286.46 L169.05 286.94 L169.52 287.41 L170.01 287.88 L170.50 288.34 L171.00 288.80 L171.51 289.24 L172.04 289.68 L172.58 290.10 L173.12 290.52 L173.69 290.93 L174.26 291.33 L174.85 291.71 L175.45 292.08 L176.06 292.44 L176.68 292.79 L177.31 293.11 L177.95 293.42 L178.59 293.71 L179.24 293.98 L179.89 294.23 L180.54 294.46 L181.20 294.66 L181.86 294.84 L182.52 294.99 L183.18 295.12 L183.84 295.21 L184.50 295.28 L185.15 295.31 L185.80 295.32 L186.44 295.29 L187.08 295.23 L187.71 295.13 L188.34 295.00 L188.96 294.84 L189.57 294.66 L190.18 294.44 L190.78 294.20 L191.37 293.94 L191.96 293.65 L192.54 293.34 L193.12 293.02 L193.69 292.67 L194.25 292.30 L194.81 291.92 L195.36 291.53 L195.90 291.12 L196.44 290.70 L196.97 290.27 L197.50 289.83 L198.01 289.38 L198.53 288.93 L199.03 288.46 L199.54 287.98 L200.03 287.50 L200.52 287.01 L201.00 286.51 L201.48 286.00 L201.95 285.49 L202.42 284.96 L202.88 284.44 L203.34 283.90 L203.79 283.36 L204.23 282.81 L204.67 282.26 L205.11 281.70 L205.54 281.14 L205.97 280.57 L206.39 279.99 L206.81 279.41 L207.22 278.83 L207.63 278.24 L208.03 277.65 L208.44 277.05 L208.83 276.45 L209.23 275.84 L209.62 275.23 L210.00 274.62 L210.38 274.00 L210.76 273.38 L211.14 272.75 L211.51 272.13 L211.88 271.50 L212.25 270.87 L212.61 270.23 L212.98 269.60 L213.34 268.96 L213.69 268.32 L214.05 267.67 L214.40 267.03 L214.75 266.39 L215.10 265.74 L215.44 265.09 L215.79 264.44 L216.13 263.80 L216.47 263.15 L216.81 262.50 L217.15 261.85 L217.48 261.20 L217.82 260.55 L218.15 259.90 L218.49 259.25 L218.82 258.60 L219.15 257.95 L219.48 257.31 L219.81 256.66 L220.14 256.02 L220.47 255.38 L220.80 254.74 L221.13 254.10 L221.46 253.46 L221.79 252.83 L222.12 252.19 L222.45 251.56 L222.77 250.93 L223.10 250.29 L223.43 249.66 L223.75 249.03 L224.08 248.40 L224.40 247.77 L224.73 247.13 L225.05 246.50 L225.37 245.87 L225.69 245.24 L226.01 244.61 L226.33 243.97 L226.65 243.34 L226.97 242.70 L227.29 242.07 L227.60 241.43 L227.92 240.79 L228.23 240.15 L228.54 239.51 L228.86 238.87 L229.17 238.22 L229.48 237.58 L229.79 236.93 L230.09 236.28 L230.40 235.63 L230.70 234.97 L231.01 234.32 L231.31 233.66 L231.61 233.00 L231.91 232.34 L232.21 231.68 L232.51 231.02 L232.81 230.36 L233.11 229.69 L233.41 229.02 L233.70 228.35 L234.00 227.68 L234.29 227.01 L234.58 226.34 L234.87 225.67 L235.17 224.99 L235.46 224.32 L235.75 223.64 L236.03 222.96 L236.32 222.28 L236.61 221.60 L236.90 220.92 L237.18 220.24 L237.47 219.56 L237.75 218.87 L238.04 218.19 L238.32 217.50 L238.60 216.81 L238.88 216.13 L239.17 215.44 L239.45 214.75 L239.73 214.06 L240.01 213.37 L240.29 212.68 L240.56 211.98 L240.84 211.29 L241.12 210.60 L241.40 209.91 L241.67 209.21 L241.95 208.52 L242.23 207.82 L242.50 207.13 L242.78 206.43 L243.05 205.73 L243.33 205.04 L243.60 204.34 L243.88 203.64 L244.15 202.95 L244.42 202.25 L244.70 201.55 L244.97 200.85 L245.24 200.16 L245.51 199.46 L245.79 198.76 L246.06 198.06 L246.33 197.36 L246.60 196.66 L246.87 195.97 L247.15 195.27 L247.42 194.57 L247.69 193.87 L247.96 193.18 L248.23 192.48 L248.50 191.78 L248.77 191.08 L249.05 190.39 L249.32 189.69 L249.59 189.00 L249.86 188.30 L250.13 187.61 L250.40 186.91 L250.68 186.22 L250.95 185.52 L251.22 184.83 L251.49 184.14 L251.76 183.45 L252.03 182.76 L252.31 182.06 L252.58 181.37 L252.85 180.68 L253.12 179.99 L253.40 179.30 L253.67 178.61 L253.94 177.92 L254.21 177.23 L254.48 176.54 L254.75 175.86 L255.03 175.17 L255.30 174.48 L255.57 173.79 L255.84 173.10 L256.11 172.41 L256.38 171.73 L256.66 171.04 L256.93 170.35 L257.20 169.66 L257.47 168.98 L257.74 168.29 L258.01 167.60 L258.28 166.92 L258.55 166.23 L258.82 165.54 L259.09 164.86 L259.36 164.17 L259.63 163.48 L259.89 162.79 L260.16 162.11 L260.43 161.42 L260.70 160.73 L260.97 160.05 L261.23 159.36 L261.50 158.67 L261.77 157.98 L262.03 157.29 L262.30 156.61 L262.56 155.92 L262.83 155.23 L263.09 154.54 L263.36 153.85 L263.62 153.16 L263.89 152.47 L264.15 151.78 L264.41 151.09 L264.67 150.40 L264.94 149.71 L265.20 149.02 L265.46 148.33 L265.72 147.63 L265.98 146.94 L266.24 146.25 L266.50 145.56 L266.76 144.86 L267.01 144.17 L267.27 143.47 L267.53 142.78 L267.79 142.09 L268.04 141.39 L268.30 140.70 L268.55 140.00 L268.81 139.30 L269.06 138.61 L269.32 137.91 L269.57 137.21 L269.83 136.52 L270.08 135.82 L270.34 135.12 L270.59 134.43 L270.84 133.73 L271.09 133.03 L271.35 132.33 L271.60 131.63 L271.85 130.93 L272.10 130.23 L272.35 129.53 L272.60 128.84 L272.85 128.14 L273.10 127.44 L273.36 126.74 L273.61 126.03 L273.86 125.33 L274.10 124.63 L274.35 123.93 L274.60 123.23 L274.85 122.53 L275.10 121.83 L275.35 121.13 L275.60 120.43 L275.85 119.72 L276.10 119.02 L276.34 118.32 L276.59 117.62 L276.84 116.92 L277.09 116.21 L277.34 115.51 L277.58 114.81 L277.83 114.11 L278.08 113.40 L278.33 112.70 L278.57 112.00 L278.82 111.29 L279.07 110.59 L279.31 109.89 L279.56 109.18 L279.81 108.48 L280.06 107.78 L280.30 107.07 L280.55 106.37 L280.80 105.67 L281.04 104.96 L281.29 104.26 L281.54 103.56 L281.79 102.85 L282.03 102.15 L282.28 101.45 L282.53 100.74 L282.77 100.04 L283.02 99.34 L283.27 98.63 L283.52 97.93 L283.76 97.23 L284.01 96.52 L284.26 95.82 L284.51 95.12 L284.76 94.41 L285.00 93.71 L285.25 93.01 L285.50 92.30 L285.75 91.60 L286.00 90.90 L286.25 90.19 L286.50 89.49 L286.75 88.79 L287.00 88.09 L287.25 87.38 L287.50 86.68 L287.75 85.98 L288.00 85.28 L288.25 84.57 L288.50 83.87 L288.75 83.17 L289.00 82.47 L289.25 81.77 L289.51 81.07 L289.76 80.37 L290.01 79.66 L290.26 78.96 L290.52 78.26 L290.77 77.56 L291.02 76.86 L291.28 76.16 L291.53 75.46 L291.79 74.76 L292.04 74.06 L292.30 73.36 L292.56 72.66 L292.81 71.97 L293.07 71.27 L293.33 70.57 L293.58 69.87 L293.84 69.17 L294.10 68.48 L294.36 67.78 L294.62 67.08 L294.88 66.38 L295.14 65.69 L295.40 64.99 L295.66 64.29 L295.92 63.60 L296.18 62.90 L296.44 62.21 L296.71 61.51 L296.97 60.82 L297.23 60.12 L297.50 59.43 L297.76 58.74 L298.03 58.04 L298.29 57.35 L298.56 56.66 L298.83 55.97 L299.09 55.27 L299.36 54.58 L299.63 53.89 L299.90 53.20 L300.17 53.89 L300.44 54.58 L300.71 55.27 L300.97 55.97 L301.24 56.66 L301.51 57.35 L301.77 58.04 L302.04 58.74 L302.30 59.43 L302.57 60.12 L302.83 60.82 L303.09 61.51 L303.36 62.21 L303.62 62.90 L303.88 63.60 L304.14 64.29 L304.40 64.99 L304.66 65.69 L304.92 66.38 L305.18 67.08 L305.44 67.78 L305.70 68.48 L305.96 69.17 L306.22 69.87 L306.47 70.57 L306.73 71.27 L306.99 71.97 L307.24 72.66 L307.50 73.36 L307.76 74.06 L308.01 74.76 L308.27 75.46 L308.52 76.16 L308.78 76.86 L309.03 77.56 L309.28 78.26 L309.54 78.96 L309.79 79.66 L310.04 80.37 L310.29 81.07 L310.55 81.77 L310.80 82.47 L311.05 83.17 L311.30 83.87 L311.55 84.57 L311.80 85.28 L312.05 85.98 L312.30 86.68 L312.55 87.38 L312.80 88.09 L313.05 88.79 L313.30 89.49 L313.55 90.19 L313.80 90.90 L314.05 91.60 L314.30 92.30 L314.55 93.01 L314.80 93.71 L315.04 94.41 L315.29 95.12 L315.54 95.82 L315.79 96.52 L316.04 97.23 L316.28 97.93 L316.53 98.63 L316.78 99.34 L317.03 100.04 L317.27 100.74 L317.52 101.45 L317.77 102.15 L318.01 102.85 L318.26 103.56 L318.51 104.26 L318.76 104.96 L319.00 105.67 L319.25 106.37 L319.50 107.07 L319.74 107.78 L319.99 108.48 L320.24 109.18 L320.49 109.89 L320.73 110.59 L320.98 111.29 L321.23 112.00 L321.47 112.70 L321.72 113.40 L321.97 114.11 L322.22 114.81 L322.46 115.51 L322.71 116.21 L322.96 116.92 L323.21 117.62 L323.46 118.32 L323.70 119.02 L323.95 119.72 L324.20 120.43 L324.45 121.13 L324.70 121.83 L324.95 122.53 L325.20 123.23 L325.45 123.93 L325.70 124.63 L325.94 125.33 L326.19 126.03 L326.44 126.74 L326.70 127.44 L326.95 128.14 L327.20 128.84 L327.45 129.53 L327.70 130.23 L327.95 130.93 L328.20 131.63 L328.45 132.33 L328.71 133.03 L328.96 133.73 L329.21 134.43 L329.46 135.12 L329.72 135.82 L329.97 136.52 L330.23 137.21 L330.48 137.91 L330.74 138.61 L330.99 139.30 L331.25 140.00 L331.50 140.70 L331.76 141.39 L332.01 142.09 L332.27 142.78 L332.53 143.47 L332.79 144.17 L333.04 144.86 L333.30 145.56 L333.56 146.25 L333.82 146.94 L334.08 147.63 L334.34 148.33 L334.60 149.02 L334.86 149.71 L335.13 150.40 L335.39 151.09 L335.65 151.78 L335.91 152.47 L336.18 153.16 L336.44 153.85 L336.71 154.54 L336.97 155.23 L337.24 155.92 L337.50 156.61 L337.77 157.29 L338.03 157.98 L338.30 158.67 L338.57 159.36 L338.83 160.05 L339.10 160.73 L339.37 161.42 L339.64 162.11 L339.91 162.79 L340.17 163.48 L340.44 164.17 L340.71 164.86 L340.98 165.54 L341.25 166.23 L341.52 166.92 L341.79 167.60 L342.06 168.29 L342.33 168.98 L342.60 169.66 L342.87 170.35 L343.14 171.04 L343.42 171.73 L343.69 172.41 L343.96 173.10 L344.23 173.79 L344.50 174.48 L344.77 175.17 L345.05 175.86 L345.32 176.54 L345.59 177.23 L345.86 177.92 L346.13 178.61 L346.40 179.30 L346.68 179.99 L346.95 180.68 L347.22 181.37 L347.49 182.06 L347.77 182.76 L348.04 183.45 L348.31 184.14 L348.58 184.83 L348.85 185.52 L349.12 186.22 L349.40 186.91 L349.67 187.61 L349.94 188.30 L350.21 189.00 L350.48 189.69 L350.75 190.39 L351.03 191.08 L351.30 191.78 L351.57 192.48 L351.84 193.18 L352.11 193.87 L352.38 194.57 L352.65 195.27 L352.93 195.97 L353.20 196.66 L353.47 197.36 L353.74 198.06 L354.01 198.76 L354.29 199.46 L354.56 200.16 L354.83 200.85 L355.10 201.55 L355.38 202.25 L355.65 202.95 L355.92 203.64 L356.20 204.34 L356.47 205.04 L356.75 205.73 L357.02 206.43 L357.30 207.13 L357.57 207.82 L357.85 208.52 L358.13 209.21 L358.40 209.91 L358.68 210.60 L358.96 211.29 L359.24 211.98 L359.51 212.68 L359.79 213.37 L360.07 214.06 L360.35 214.75 L360.63 215.44 L360.92 216.13 L361.20 216.81 L361.48 217.50 L361.76 218.19 L362.05 218.87 L362.33 219.56 L362.62 220.24 L362.90 220.92 L363.19 221.60 L363.48 222.28 L363.77 222.96 L364.05 223.64 L364.34 224.32 L364.63 224.99 L364.93 225.67 L365.22 226.34 L365.51 227.01 L365.80 227.68 L366.10 228.35 L366.39 229.02 L366.69 229.69 L366.99 230.36 L367.29 231.02 L367.59 231.68 L367.89 232.34 L368.19 233.00 L368.49 233.66 L368.79 234.32 L369.10 234.97 L369.40 235.63 L369.71 236.28 L370.01 236.93 L370.32 237.58 L370.63 238.22 L370.94 238.87 L371.26 239.51 L371.57 240.15 L371.88 240.79 L372.20 241.43 L372.51 242.07 L372.83 242.70 L373.15 243.34 L373.47 243.97 L373.79 244.61 L374.11 245.24 L374.43 245.87 L374.75 246.50 L375.07 247.13 L375.40 247.77 L375.72 248.40 L376.05 249.03 L376.37 249.66 L376.70 250.29 L377.03 250.93 L377.35 251.56 L377.68 252.19 L378.01 252.83 L378.34 253.46 L378.67 254.10 L379.00 254.74 L379.33 255.38 L379.66 256.02 L379.99 256.66 L380.32 257.31 L380.65 257.95 L380.98 258.60 L381.31 259.25 L381.65 259.90 L381.98 260.55 L382.32 261.20 L382.65 261.85 L382.99 262.50 L383.33 263.15 L383.67 263.80 L384.01 264.44 L384.36 265.09 L384.70 265.74 L385.05 266.39 L385.40 267.03 L385.75 267.67 L386.11 268.32 L386.46 268.96 L386.82 269.60 L387.19 270.23 L387.55 270.87 L387.92 271.50 L388.29 272.13 L388.66 272.75 L389.04 273.38 L389.42 274.00 L389.80 274.62 L390.18 275.23 L390.57 275.84 L390.97 276.45 L391.36 277.05 L391.77 277.65 L392.17 278.24 L392.58 278.83 L392.99 279.41 L393.41 279.99 L393.83 280.57 L394.26 281.14 L394.69 281.70 L395.13 282.26 L395.57 282.81 L396.01 283.36 L396.46 283.90 L396.92 284.44 L397.38 284.96 L397.85 285.49 L398.32 286.00 L398.80 286.51 L399.28 287.01 L399.77 287.50 L400.26 287.98 L400.77 288.46 L401.27 288.93 L401.79 289.38 L402.30 289.83 L402.83 290.27 L403.36 290.70 L403.90 291.12 L404.44 291.53 L404.99 291.92 L405.55 292.30 L406.11 292.67 L406.68 293.02 L407.26 293.34 L407.84 293.65 L408.43 293.94 L409.02 294.20 L409.62 294.44 L410.23 294.66 L410.84 294.84 L411.46 295.00 L412.09 295.13 L412.72 295.23 L413.36 295.29 L414.00 295.32 L414.65 295.31 L415.30 295.28 L415.96 295.21 L416.62 295.12 L417.28 294.99 L417.94 294.84 L418.60 294.66 L419.26 294.46 L419.91 294.23 L420.56 293.98 L421.21 293.71 L421.85 293.42 L422.49 293.11 L423.12 292.79 L423.74 292.44 L424.35 292.08 L424.95 291.71 L425.54 291.33 L426.11 290.93 L426.68 290.52 L427.22 290.10 L427.76 289.68 L428.29 289.24 L428.80 288.80 L429.30 288.34 L429.79 287.88 L430.28 287.41 L430.75 286.94 L431.22 286.46 L431.68 285.97 L432.13 285.48 L432.58 284.98 L433.02 284.47 L433.46 283.97 L433.89 283.45 L434.32 282.94 L434.75 282.41 L435.18 281.89 L435.60 281.36 L436.03 280.83 L436.45 280.30 L436.88 279.76 L437.30 279.22 L437.72 278.68 L438.14 278.13 L438.57 277.58 L438.99 277.03 L439.41 276.47 L439.83 275.91 L440.25 275.35 L440.67 274.78 L441.08 274.21 L441.50 273.63 L441.92 273.05 L442.34 272.47 L442.76 271.89 L443.17 271.31 L443.59 270.72 L444.01 270.13 L444.43 269.53 L444.84 268.94 L445.26 268.34 L445.68 267.74 L446.10 267.14 L446.51 266.53 L446.93 265.93 L447.35 265.32 L447.77 264.71 L448.19 264.10 L448.61 263.49 L449.03 262.88 L449.45 262.27 L449.87 261.65 L450.29 261.04 L450.71 260.42 L451.13 259.81 L451.56 259.19 L451.98 258.57 L452.40 257.96 L452.83 257.34 L453.26 256.72 L453.68 256.10 L454.11 255.48 L454.54 254.87 L454.97 254.25 L455.40 253.63 L455.83 253.02 L456.27 252.40 L456.70 251.78 L457.14 251.17 L457.57 250.56 L458.01 249.95 L458.45 249.33 L458.89 248.72 L459.33 248.12 L459.78 247.51 L460.22 246.90 L460.67 246.30 L461.12 245.70 L461.57 245.10 L462.02 244.50 L462.47 243.91 L462.92 243.31 L463.38 242.72 L463.84 242.13 L464.30 241.55 L464.76 240.97 L465.23 240.38 L465.69 239.81 L466.16 239.23 L466.63 238.66 L467.10 238.09 L467.57 237.53 L468.05 236.96 L468.53 236.40 L469.00 235.84 L469.48 235.28 L469.96 234.73 L470.45 234.18 L470.93 233.63 L471.41 233.08 L471.90 232.53 L472.39 231.98 L472.88 231.44 L473.36 230.90 L473.85 230.35 L474.34 229.81 L474.83 229.27 L475.33 228.74 L475.82 228.20 L476.31 227.66 L476.80 227.13 L477.30 226.59 L477.79 226.06 L478.29 225.52 L478.78 224.99 L479.27 224.45 L479.77 223.92 L480.27 223.39 L480.76 222.87 L481.26 222.35 L481.76 221.83 L482.27 221.32 L482.77 220.82 L483.28 220.32 L483.79 219.83 L484.30 219.34 L484.81 218.87 L485.33 218.41 L485.85 217.95 L486.38 217.51 L486.91 217.08 L487.44 216.66 L487.98 216.25 L488.52 215.85 L489.07 215.46 L489.63 215.08 L490.19 214.71 L490.75 214.35 L491.33 214.01 L491.91 213.67 L492.49 213.33 L493.09 213.01 L493.69 212.70 L494.30 212.39 L494.92 212.10 L495.55 211.81 L496.18 211.52 L496.82 211.25 L497.47 210.99 L498.13 210.74 L498.80 210.49 L499.47 210.26 L500.15 210.04 L500.84 209.83 L501.53 209.63 L502.23 209.44 L502.94 209.26 L503.64 209.09 L504.36 208.94 L505.07 208.80 L505.79 208.68 L506.51 208.56 L507.23 208.46 L507.95 208.38 L508.67 208.31 L509.39 208.25 L510.10 208.21 L510.82 208.19 L511.53 208.18 L512.23 208.18 L512.94 208.20 L513.64 208.24 L514.34 208.29 L515.04 208.35 L515.73 208.43 L516.43 208.52 L517.12 208.62 L517.80 208.73 L518.49 208.85 L519.18 208.99 L519.86 209.14 L520.54 209.29 L521.22 209.46 L521.90 209.64 L522.58 209.82 L523.26 210.01 L523.94 210.21 L524.62 210.42 L525.29 210.64 L525.97 210.86 L526.65 211.09 L527.32 211.33 L528.00 211.57 L528.68 211.81 L529.36 212.06 L530.04 212.32 L530.72 212.58 L531.40 212.84 L532.08 213.10 L532.76 213.37 L533.45 213.64 L534.13 213.91 L534.82 214.18 L535.51 214.45 L536.20 214.73 L536.89 215.00" stroke="#8c1c94"/>
<path d="M62.89 200.28 L63.56 199.55 L64.22 198.82 L64.86 198.08 L65.49 197.34 L66.11 196.59 L66.73 195.83 L67.34 195.08 L67.93 194.32 L68.53 193.56 L69.12 192.79 L69.70 192.03 L70.28 191.27 L70.86 190.51 L71.44 189.75 L72.02 188.99 L72.60 188.24 L73.19 187.49 L73.77 186.74 L74.36 186.00 L74.96 185.27 L75.56 184.54 L76.17 183.83 L76.79 183.11 L77.41 182.41 L78.05 181.72 L78.70 181.04 L79.36 180.37 L80.03 179.71 L80.72 179.06 L81.42 178.43 L82.14 177.81 L82.88 177.21 L83.64 176.62 L84.41 176.05 L85.20 175.49 L86.02 174.95 L86.85 174.44 L87.71 173.94 L88.58 173.46 L89.46 173.01 L90.36 172.57 L91.26 172.17 L92.18 171.79 L93.11 171.44 L94.04 171.12 L94.98 170.83 L95.92 170.57 L96.87 170.34 L97.81 170.15 L98.75 169.99 L99.69 169.87 L100.63 169.79 L101.56 169.75 L102.48 169.75 L103.39 169.79 L104.29 169.87 L105.18 170.00 L106.05 170.17 L106.91 170.39 L107.75 170.66 L108.58 170.98 L109.38 171.35 L110.16 171.77 L110.92 172.23 L111.66 172.74 L112.39 173.30 L113.09 173.89 L113.78 174.52 L114.45 175.18 L115.11 175.88 L115.75 176.60 L116.38 177.36 L116.99 178.14 L117.59 178.94 L118.18 179.76 L118.76 180.60 L119.32 181.45 L119.88 182.32 L120.42 183.19 L120.96 184.08 L121.49 184.96 L122.01 185.86 L122.52 186.75 L123.03 187.64 L123.53 188.54 L124.02 189.43 L124.51 190.33 L124.99 191.22 L125.46 192.12 L125.93 193.02 L126.40 193.92 L126.85 194.82 L127.31 195.72 L127.75 196.62 L128.19 197.53 L128.63 198.43 L129.06 199.33 L129.49 200.24 L129.91 201.15 L130.33 202.05 L130.74 202.96 L131.15 203.87 L131.55 204.78 L131.95 205.69 L132.35 206.60 L132.74 207.51 L133.13 208.43 L133.52 209.34 L133.90 210.26 L134.28 211.17 L134.66 212.09 L135.03 213.00 L135.41 213.92 L135.78 214.84 L136.14 215.76 L136.51 216.68 L136.87 217.60 L137.23 218.52 L137.59 219.45 L137.95 220.37 L138.30 221.29 L138.66 222.22 L139.01 223.14 L139.37 224.07 L139.72 225.00 L140.07 225.92 L140.42 226.85 L140.77 227.78 L141.11 228.71 L141.46 229.64 L141.81 230.57 L142.15 231.50 L142.50 232.44 L142.84 233.37 L143.18 234.30 L143.53 235.24 L143.87 236.17 L144.21 237.10 L144.55 238.04 L144.89 238.98 L145.23 239.91 L145.56 240.85 L145.90 241.79 L146.24 242.72 L146.57 243.66 L146.91 244.60 L147.25 245.54 L147.58 246.48 L147.92 247.42 L148.25 248.36 L148.58 249.30 L148.92 250.24 L149.25 251.18 L149.58 252.13 L149.92 253.07 L150.25 254.01 L150.58 254.95 L150.91 255.89 L151.24 256.84 L151.58 257.78 L151.91 258.72 L152.24 259.67 L152.57 260.61 L152.90 261.56 L153.23 262.50 L153.56 263.44 L153.90 264.39 L154.23 265.33 L154.56 266.28 L154.89 267.22 L155.22 268.17 L155.55 269.11 L155.88 270.06 L156.22 271.00 L156.55 271.95 L156.88 272.89 L157.21 273.84 L157.55 274.78 L157.88 275.73 L158.21 276.67 L158.55 277.62 L158.88 278.56 L159.22 279.51 L159.55 280.45 L159.89 281.40 L160.22 282.34 L160.56 283.29 L160.90 284.23 L161.24 285.17 L161.57 286.12 L161.91 287.06 L162.25 288.00 L162.59 288.95 L162.93 289.89 L163.28 290.83 L163.62 291.78 L163.96 292.72 L164.30 293.66 L164.65 294.60 L164.99 295.54 L165.34 296.48 L165.69 297.42 L166.04 298.36 L166.38 299.30 L166.73 300.24 L167.09 301.18 L167.44 302.12 L167.79 303.06 L168.14 304.00 L168.50 304.93 L168.86 305.87 L169.21 306.81 L169.57 307.74 L169.93 308.68 L170.29 309.61 L170.65 310.55 L171.02 311.48 L171.38 312.41 L171.75 313.34 L172.11 314.28 L172.48 315.21 L172.85 316.14 L173.22 317.07 L173.59 318.00 L173.97 318.93 L174.34 319.85 L174.72 320.78 L175.10 321.71 L175.48 322.63 L175.86 323.56 L176.24 324.48 L176.63 325.41 L177.02 326.33 L177.41 327.25 L177.80 328.16 L178.20 329.08 L178.60 329.99 L179.00 330.91 L179.41 331.81 L179.82 332.72 L180.23 333.62 L180.65 334.52 L181.07 335.42 L181.50 336.31 L181.93 337.20 L182.37 338.08 L182.81 338.96 L183.26 339.84 L183.72 340.71 L184.18 341.57 L184.65 342.43 L185.12 343.29 L185.61 344.14 L186.09 344.98 L186.59 345.82 L187.09 346.65 L187.60 347.47 L188.12 348.29 L188.65 349.10 L189.18 349.90 L189.73 350.67 L190.27 351.39 L190.82 352.05 L191.37 352.64 L191.92 353.18 L192.45 353.68 L192.98 354.19 L193.48 354.73 L193.98 355.27 L194.52 355.79 L195.12 356.23 L195.81 356.57 L196.60 356.79 L197.46 356.88 L198.36 356.87 L199.30 356.76 L200.23 356.55 L201.15 356.25 L202.03 355.86 L202.85 355.40 L203.62 354.86 L204.34 354.26 L205.02 353.61 L205.66 352.90 L206.26 352.15 L206.83 351.35 L207.38 350.53 L207.90 349.68 L208.41 348.81 L208.90 347.93 L209.38 347.04 L209.85 346.15 L210.31 345.26 L210.76 344.37 L211.21 343.47 L211.65 342.57 L212.08 341.66 L212.50 340.76 L212.92 339.85 L213.33 338.93 L213.73 338.02 L214.12 337.10 L214.51 336.18 L214.89 335.26 L215.27 334.34 L215.64 333.41 L216.00 332.49 L216.36 331.56 L216.72 330.63 L217.06 329.69 L217.41 328.76 L217.74 327.82 L218.08 326.88 L218.41 325.94 L218.73 325.00 L219.05 324.06 L219.37 323.11 L219.68 322.17 L219.99 321.22 L220.30 320.27 L220.60 319.33 L220.91 318.38 L221.20 317.42 L221.50 316.47 L221.79 315.52 L222.08 314.57 L222.37 313.61 L222.66 312.66 L222.95 311.70 L223.23 310.74 L223.51 309.79 L223.80 308.83 L224.08 307.87 L224.36 306.92 L224.64 305.96 L224.92 305.00 L225.20 304.04 L225.48 303.08 L225.76 302.13 L226.05 301.17 L226.33 300.21 L226.61 299.25 L226.90 298.30 L227.18 297.34 L227.47 296.39 L227.76 295.43 L228.05 294.48 L228.35 293.52 L228.64 292.57 L228.94 291.61 L229.23 290.66 L229.53 289.71 L229.83 288.76 L230.14 287.81 L230.44 286.85 L230.75 285.90 L231.05 284.95 L231.36 284.00 L231.67 283.05 L231.98 282.11 L232.29 281.16 L232.60 280.21 L232.91 279.26 L233.22 278.31 L233.53 277.36 L233.85 276.42 L234.16 275.47 L234.48 274.52 L234.79 273.57 L235.11 272.63 L235.43 271.68 L235.74 270.73 L236.06 269.79 L236.38 268.84 L236.69 267.89 L237.01 266.95 L237.33 266.00 L237.65 265.05 L237.96 264.11 L238.28 263.16 L238.60 262.21 L238.91 261.26 L239.23 260.32 L239.54 259.37 L239.86 258.42 L240.17 257.47 L240.49 256.53 L240.80 255.58 L241.11 254.63 L241.42 253.68 L241.74 252.73 L242.05 251.78 L242.36 250.83 L242.66 249.88 L242.97 248.93 L243.28 247.98 L243.59 247.03 L243.89 246.08 L244.20 245.13 L244.50 244.18 L244.81 243.23 L245.11 242.28 L245.42 241.33 L245.72 240.38 L246.02 239.42 L246.32 238.47 L246.62 237.52 L246.92 236.57 L247.22 235.61 L247.52 234.66 L247.82 233.71 L248.12 232.75 L248.41 231.80 L248.71 230.85 L249.01 229.89 L249.30 228.94 L249.60 227.99 L249.89 227.03 L250.18 226.08 L250.48 225.12 L250.77 224.17 L251.06 223.21 L251.35 222.26 L251.64 221.30 L251.93 220.34 L252.22 219.39 L252.51 218.43 L252.80 217.48 L253.09 216.52 L253.38 215.56 L253.67 214.61 L253.96 213.65 L254.24 212.69 L254.53 211.74 L254.81 210.78 L255.10 209.82 L255.39 208.86 L255.67 207.91 L255.95 206.95 L256.24 205.99 L256.52 205.03 L256.80 204.07 L257.09 203.12 L257.37 202.16 L257.65 201.20 L257.93 200.24 L258.21 199.28 L258.49 198.32 L258.77 197.36 L259.05 196.40 L259.33 195.44 L259.61 194.48 L259.89 193.52 L260.17 192.56 L260.45 191.60 L260.72 190.64 L261.00 189.68 L261.28 188.72 L261.56 187.76 L261.83 186.80 L262.11 185.84 L262.38 184.88 L262.66 183.92 L262.94 182.96 L263.21 182.00 L263.49 181.04 L263.76 180.08 L264.03 179.12 L264.31 178.16 L264.58 177.19 L264.86 176.23 L265.13 175.27 L265.40 174.31 L265.67 173.35 L265.95 172.39 L266.22 171.43 L266.49 170.46 L266.76 169.50 L267.04 168.54 L267.31 167.58 L267.58 166.62 L267.85 165.65 L268.12 164.69 L268.39 163.73 L268.66 162.77 L268.93 161.80 L269.20 160.84 L269.47 159.88 L269.74 158.92 L270.01 157.95 L270.28 156.99 L270.55 156.03 L270.82 155.07 L271.09 154.10 L271.36 153.14 L271.63 152.18 L271.90 151.22 L272.17 150.25 L272.44 149.29 L272.71 148.33 L272.98 147.36 L273.25 146.40 L273.51 145.44 L273.78 144.48 L274.05 143.51 L274.32 142.55 L274.59 141.59 L274.86 140.62 L275.13 139.66 L275.39 138.70 L275.66 137.73 L275.93 136.77 L276.20 135.81 L276.47 134.85 L276.74 133.88 L277.01 132.92 L277.27 131.96 L277.54 130.99 L277.81 130.03 L278.08 129.07 L278.35 128.10 L278.62 127.14 L278.89 126.18 L279.15 125.22 L279.42 124.25 L279.69 123.29 L279.96 122.33 L280.23 121.36 L280.50 120.40 L280.77 119.44 L281.04 118.48 L281.31 117.51 L281.58 116.55 L281.85 115.59 L282.12 114.63 L282.39 113.66 L282.66 112.70 L282.93 111.74 L283.20 110.78 L283.47 109.81 L283.74 108.85 L284.01 107.89 L284.28 106.93 L284.55 105.97 L284.82 105.00 L285.09 104.04 L285.37 103.08 L285.64 102.12 L285.91 101.16 L286.18 100.19 L286.46 99.23 L286.73 98.27 L287.00 97.31 L287.27 96.35 L287.55 95.39 L287.82 94.43 L288.10 93.46 L288.37 92.50 L288.64 91.54 L288.92 90.58 L289.19 89.62 L289.47 88.66 L289.74 87.70 L290.02 86.74 L290.30 85.78 L290.57 84.82 L290.85 83.86 L291.13 82.90 L291.40 81.94 L291.68 80.98 L291.96 80.02 L292.24 79.06 L292.52 78.10 L292.80 77.14 L293.08 76.18 L293.35 75.22 L293.63 74.26 L293.92 73.30 L294.20 72.35 L294.48 71.39 L294.76 70.43 L295.04 69.47 L295.32 68.51 L295.61 67.55 L295.89 66.60 L296.17 65.64 L296.46 64.68 L296.74 63.72 L297.03 62.77 L297.31 61.81 L297.60 60.85 L297.88 59.89 L298.17 58.94 L298.46 57.98 L298.75 57.02 L299.03 56.07 L299.32 55.11 L299.61 54.16 L299.90 53.20 L300.19 54.16 L300.48 55.11 L300.77 56.07 L301.05 57.02 L301.34 57.98 L301.63 58.94 L301.92 59.89 L302.20 60.85 L302.49 61.81 L302.77 62.77 L303.06 63.72 L303.34 64.68 L303.63 65.64 L303.91 66.60 L304.19 67.55 L304.48 68.51 L304.76 69.47 L305.04 70.43 L305.32 71.39 L305.60 72.35 L305.88 73.30 L306.17 74.26 L306.45 75.22 L306.72 76.18 L307.00 77.14 L307.28 78.10 L307.56 79.06 L307.84 80.02 L308.12 80.98 L308.40 81.94 L308.67 82.90 L308.95 83.86 L309.23 84.82 L309.50 85.78 L309.78 86.74 L310.06 87.70 L310.33 88.66 L310.61 89.62 L310.88 90.58 L311.16 91.54 L311.43 92.50 L311.70 93.46 L311.98 94.43 L312.25 95.39 L312.53 96.35 L312.80 97.31 L313.07 98.27 L313.34 99.23 L313.62 100.19 L313.89 101.16 L314.16 102.12 L314.43 103.08 L314.71 104.04 L314.98 105.00 L315.25 105.97 L315.52 106.93 L315.79 107.89 L316.06 108.85 L316.33 109.81 L316.60 110.78 L316.87 111.74 L317.14 112.70 L317.41 113.66 L317.68 114.63 L317.95 115.59 L318.22 116.55 L318.49 117.51 L318.76 118.48 L319.03 119.44 L319.30 120.40 L319.57 121.36 L319.84 122.33 L320.11 123.29 L320.38 124.25 L320.65 125.22 L320.91 126.18 L321.18 127.14 L321.45 128.10 L321.72 129.07 L321.99 130.03 L322.26 130.99 L322.53 131.96 L322.79 132.92 L323.06 133.88 L323.33 134.85 L323.60 135.81 L323.87 136.77 L324.14 137.73 L324.41 138.70 L324.67 139.66 L324.94 140.62 L325.21 141.59 L325.48 142.55 L325.75 143.51 L326.02 144.48 L326.29 145.44 L326.55 146.40 L326.82 147.36 L327.09 148.33 L327.36 149.29 L327.63 150.25 L327.90 151.22 L328.17 152.18 L328.44 153.14 L328.71 154.10 L328.98 155.07 L329.25 156.03 L329.52 156.99 L329.79 157.95 L330.06 158.92 L330.33 159.88 L330.60 160.84 L330.87 161.80 L331.14 162.77 L331.41 163.73 L331.68 164.69 L331.95 165.65 L332.22 166.62 L332.49 167.58 L332.76 168.54 L333.04 169.50 L333.31 170.46 L333.58 171.43 L333.85 172.39 L334.13 173.35 L334.40 174.31 L334.67 175.27 L334.94 176.23 L335.22 177.19 L335.49 178.16 L335.77 179.12 L336.04 180.08 L336.31 181.04 L336.59 182.00 L336.86 182.96 L337.14 183.92 L337.42 184.88 L337.69 185.84 L337.97 186.80 L338.24 187.76 L338.52 188.72 L338.80 189.68 L339.08 190.64 L339.35 191.60 L339.63 192.56 L339.91 193.52 L340.19 194.48 L340.47 195.44 L340.75 196.40 L341.03 197.36 L341.31 198.32 L341.59 199.28 L341.87 200.24 L342.15 201.20 L342.43 202.16 L342.71 203.12 L343.00 204.07 L343.28 205.03 L343.56 205.99 L343.85 206.95 L344.13 207.91 L344.41 208.86 L344.70 209.82 L344.99 210.78 L345.27 211.74 L345.56 212.69 L345.84 213.65 L346.13 214.61 L346.42 215.56 L346.71 216.52 L347.00 217.48 L347.29 218.43 L347.58 219.39 L347.87 220.34 L348.16 221.30 L348.45 222.26 L348.74 223.21 L349.03 224.17 L349.32 225.12 L349.62 226.08 L349.91 227.03 L350.20 227.99 L350.50 228.94 L350.79 229.89 L351.09 230.85 L351.39 231.80 L351.68 232.75 L351.98 233.71 L352.28 234.66 L352.58 235.61 L352.88 236.57 L353.18 237.52 L353.48 238.47 L353.78 239.42 L354.08 240.38 L354.38 241.33 L354.69 242.28 L354.99 243.23 L355.30 244.18 L355.60 245.13 L355.91 246.08 L356.21 247.03 L356.52 247.98 L356.83 248.93 L357.14 249.88 L357.44 250.83 L357.75 251.78 L358.06 252.73 L358.38 253.68 L358.69 254.63 L359.00 255.58 L359.31 256.53 L359.63 257.47 L359.94 258.42 L360.26 259.37 L360.57 260.32 L360.89 261.26 L361.20 262.21 L361.52 263.16 L361.84 264.11 L362.15 265.05 L362.47 266.00 L362.79 266.95 L363.11 267.89 L363.42 268.84 L363.74 269.79 L364.06 270.73 L364.37 271.68 L364.69 272.63 L365.01 273.57 L365.32 274.52 L365.64 275.47 L365.95 276.42 L366.27 277.36 L366.58 278.31 L366.89 279.26 L367.20 280.21 L367.51 281.16 L367.82 282.11 L368.13 283.05 L368.44 284.00 L368.75 284.95 L369.05 285.90 L369.36 286.85 L369.66 287.81 L369.97 288.76 L370.27 289.71 L370.57 290.66 L370.86 291.61 L371.16 292.57 L371.45 293.52 L371.75 294.48 L372.04 295.43 L372.33 296.39 L372.62 297.34 L372.90 298.30 L373.19 299.25 L373.47 300.21 L373.75 301.17 L374.04 302.13 L374.32 303.08 L374.60 304.04 L374.88 305.00 L375.16 305.96 L375.44 306.92 L375.72 307.87 L376.00 308.83 L376.29 309.79 L376.57 310.74 L376.85 311.70 L377.14 312.66 L377.43 313.61 L377.72 314.57 L378.01 315.52 L378.30 316.47 L378.60 317.42 L378.89 318.38 L379.20 319.33 L379.50 320.27 L379.81 321.22 L380.12 322.17 L380.43 323.11 L380.75 324.06 L381.07 325.00 L381.39 325.94 L381.72 326.88 L382.06 327.82 L382.39 328.76 L382.74 329.69 L383.08 330.63 L383.44 331.56 L383.80 332.49 L384.16 333.41 L384.53 334.34 L384.91 335.26 L385.29 336.18 L385.68 337.10 L386.07 338.02 L386.47 338.93 L386.88 339.85 L387.30 340.76 L387.72 341.66 L388.15 342.57 L388.59 343.47 L389.04 344.37 L389.49 345.26 L389.95 346.15 L390.42 347.04 L390.90 347.93 L391.39 348.81 L391.90 349.68 L392.42 350.53 L392.97 351.35 L393.54 352.15 L394.14 352.90 L394.78 353.61 L395.46 354.26 L396.18 354.86 L396.95 355.40 L397.77 355.86 L398.65 356.25 L399.57 356.55 L400.50 356.76 L401.44 356.87 L402.34 356.88 L403.20 356.79 L403.99 356.57 L404.68 356.23 L405.28 355.79 L405.82 355.27 L406.32 354.73 L406.82 354.19 L407.35 353.68 L407.88 353.18 L408.43 352.64 L408.98 352.05 L409.53 351.39 L410.07 350.67 L410.62 349.90 L411.15 349.10 L411.68 348.29 L412.20 347.47 L412.71 346.65 L413.21 345.82 L413.71 344.98 L414.19 344.14 L414.68 343.29 L415.15 342.43 L415.62 341.57 L416.08 340.71 L416.54 339.84 L416.99 338.96 L417.43 338.08 L417.87 337.20 L418.30 336.31 L418.73 335.42 L419.15 334.52 L419.57 333.62 L419.98 332.72 L420.39 331.81 L420.80 330.91 L421.20 329.99 L421.60 329.08 L422.00 328.16 L422.39 327.25 L422.78 326.33 L423.17 325.41 L423.56 324.48 L423.94 323.56 L424.32 322.63 L424.70 321.71 L425.08 320.78 L425.46 319.85 L425.83 318.93 L426.21 318.00 L426.58 317.07 L426.95 316.14 L427.32 315.21 L427.69 314.28 L428.05 313.34 L428.42 312.41 L428.78 311.48 L429.15 310.55 L429.51 309.61 L429.87 308.68 L430.23 307.74 L430.59 306.81 L430.94 305.87 L431.30 304.93 L431.66 304.00 L432.01 303.06 L432.36 302.12 L432.71 301.18 L433.07 300.24 L433.42 299.30 L433.76 298.36 L434.11 297.42 L434.46 296.48 L434.81 295.54 L435.15 294.60 L435.50 293.66 L435.84 292.72 L436.18 291.78 L436.52 290.83 L436.87 289.89 L437.21 288.95 L437.55 288.00 L437.89 287.06 L438.23 286.12 L438.56 285.17 L438.90 284.23 L439.24 283.29 L439.58 282.34 L439.91 281.40 L440.25 280.45 L440.58 279.51 L440.92 278.56 L441.25 277.62 L441.59 276.67 L441.92 275.73 L442.25 274.78 L442.59 273.84 L442.92 272.89 L443.25 271.95 L443.58 271.00 L443.92 270.06 L444.25 269.11 L444.58 268.17 L444.91 267.22 L445.24 266.28 L445.57 265.33 L445.90 264.39 L446.24 263.44 L446.57 262.50 L446.90 261.56 L447.23 260.61 L447.56 259.67 L447.89 258.72 L448.22 257.78 L448.56 256.84 L448.89 255.89 L449.22 254.95 L449.55 254.01 L449.88 253.07 L450.22 252.13 L450.55 251.18 L450.88 250.24 L451.22 249.30 L451.55 248.36 L451.88 247.42 L452.22 246.48 L452.55 245.54 L452.89 244.60 L453.23 243.66 L453.56 242.72 L453.90 241.79 L454.24 240.85 L454.57 239.91 L454.91 238.98 L455.25 238.04 L455.59 237.10 L455.93 236.17 L456.27 235.24 L456.62 234.30 L456.96 233.37 L457.30 232.44 L457.65 231.50 L457.99 230.57 L458.34 229.64 L458.69 228.71 L459.03 227.78 L459.38 226.85 L459.73 225.92 L460.08 225.00 L460.43 224.07 L460.79 223.14 L461.14 222.22 L461.50 221.29 L461.85 220.37 L462.21 219.45 L462.57 218.52 L462.93 217.60 L463.29 216.68 L463.66 215.76 L464.02 214.84 L464.39 213.92 L464.77 213.00 L465.14 212.09 L465.52 211.17 L465.90 210.26 L466.28 209.34 L466.67 208.43 L467.06 207.51 L467.45 206.60 L467.85 205.69 L468.25 204.78 L468.65 203.87 L469.06 202.96 L469.47 202.05 L469.89 201.15 L470.31 200.24 L470.74 199.33 L471.17 198.43 L471.61 197.53 L472.05 196.62 L472.49 195.72 L472.95 194.82 L473.40 193.92 L473.87 193.02 L474.34 192.12 L474.81 191.22 L475.29 190.33 L475.78 189.43 L476.27 188.54 L476.77 187.64 L477.28 186.75 L477.79 185.86 L478.31 184.96 L478.84 184.08 L479.38 183.19 L479.92 182.32 L480.48 181.45 L481.04 180.60 L481.62 179.76 L482.21 178.94 L482.81 178.14 L483.42 177.36 L484.05 176.60 L484.69 175.88 L485.35 175.18 L486.02 174.52 L486.71 173.89 L487.41 173.30 L488.14 172.74 L488.88 172.23 L489.64 171.77 L490.42 171.35 L491.22 170.98 L492.05 170.66 L492.89 170.39 L493.75 170.17 L494.62 170.00 L495.51 169.87 L496.41 169.79 L497.32 169.75 L498.24 169.75 L499.17 169.79 L500.11 169.87 L501.05 169.99 L501.99 170.15 L502.93 170.34 L503.88 170.57 L504.82 170.83 L505.76 171.12 L506.69 171.44 L507.62 171.79 L508.54 172.17 L509.44 172.57 L510.34 173.01 L511.22 173.46 L512.09 173.94 L512.95 174.44 L513.78 174.95 L514.60 175.49 L515.39 176.05 L516.16 176.62 L516.92 177.21 L517.66 177.81 L518.38 178.43 L519.08 179.06 L519.77 179.71 L520.44 180.37 L521.10 181.04 L521.75 181.72 L522.39 182.41 L523.01 183.11 L523.63 183.83 L524.24 184.54 L524.84 185.27 L525.44 186.00 L526.03 186.74 L526.61 187.49 L527.20 188.24 L527.78 188.99 L528.36 189.75 L528.94 190.51 L529.52 191.27 L530.10 192.03 L530.68 192.79 L531.27 193.56 L531.87 194.32 L532.46 195.08 L533.07 195.83 L533.69 196.59 L534.31 197.34 L534.94 198.08 L535.58 198.82 L536.24 199.55 L536.91 200.28" stroke="#44ad0c"/>
<path d="M62.90 153.55 L68.23 143.20 L126.15 210.70 L184.06 368.20 L241.98 255.70 L299.90 53.20 L357.82 255.70 L415.74 368.20 L473.65 210.70 L531.57 143.20 L536.90 153.55" stroke="#6f5b63" stroke-dasharray="10.5 11.7" stroke-dashoffset="-0.7"/>
</g>
<g stroke="#1e1e1e" stroke-width="1.1"><line x1="62.90" y1="377.2" x2="62.90" y2="371.9"/><line x1="62.90" y1="53.2" x2="62.90" y2="58.5"/><line x1="181.40" y1="377.2" x2="181.40" y2="371.9"/><line x1="181.40" y1="53.2" x2="181.40" y2="58.5"/><line x1="299.90" y1="377.2" x2="299.90" y2="371.9"/><line x1="299.90" y1="53.2" x2="299.90" y2="58.5"/><line x1="418.40" y1="377.2" x2="418.40" y2="371.9"/><line x1="418.40" y1="53.2" x2="418.40" y2="58.5"/><line x1="536.90" y1="377.2" x2="536.90" y2="371.9"/><line x1="536.90" y1="53.2" x2="536.90" y2="58.5"/><line x1="62.9" y1="53.20" x2="68.2" y2="53.20"/><line x1="536.9" y1="53.20" x2="531.6" y2="53.20"/><line x1="62.9" y1="143.20" x2="68.2" y2="143.20"/><line x1="536.9" y1="143.20" x2="531.6" y2="143.20"/><line x1="62.9" y1="233.20" x2="68.2" y2="233.20"/><line x1="536.9" y1="233.20" x2="531.6" y2="233.20"/><line x1="62.9" y1="323.20" x2="68.2" y2="323.20"/><line x1="536.9" y1="323.20" x2="531.6" y2="323.20"/></g>
<rect x="62.9" y="53.2" width="474.0" height="324.0" fill="none" stroke="#6c6c6c" stroke-width="1.45"/>
<g font-family="'Liberation Sans', Arial, sans-serif" font-size="18.3" fill="#111" stroke="#111" stroke-width="0.25">
<text x="62.90" y="399.9" text-anchor="middle">-0.1</text><text x="181.40" y="399.9" text-anchor="middle">-0.05</text><text x="299.90" y="399.9" text-anchor="middle">0</text><text x="418.40" y="399.9" text-anchor="middle">0.05</text><text x="536.90" y="399.9" text-anchor="middle">0.1</text>
<text x="58.7" y="60.00" text-anchor="end">1</text><text x="58.7" y="150.00" text-anchor="end">0.5</text><text x="58.7" y="240.00" text-anchor="end">0</text><text x="58.7" y="330.00" text-anchor="end">-0.5</text>
<text x="300.3" y="422.9" text-anchor="middle">Delay (µs)</text>
<text transform="translate(21.1,215.5) rotate(-90)" text-anchor="middle">ACF</text>
<line x1="136.1" y1="11.6" x2="205.3" y2="11.6" stroke="#0066b8" stroke-width="2.3"/><text x="210.2" y="18.6">S1</text><line x1="136.1" y1="35.4" x2="205.3" y2="35.4" stroke="#ff5100" stroke-width="2.3" stroke-dasharray="11.2 11.0"/><text x="210.2" y="42.4">S2</text><line x1="247.6" y1="11.6" x2="316.8" y2="11.6" stroke="#ffa900" stroke-width="2.3"/><text x="321.7" y="18.6">S3</text><line x1="247.6" y1="35.4" x2="316.8" y2="35.4" stroke="#8c1c94" stroke-width="2.3"/><text x="321.7" y="42.4">S4</text><line x1="359.0" y1="11.6" x2="428.2" y2="11.6" stroke="#44ad0c" stroke-width="2.3"/><text x="433.1" y="18.6">S5</text><line x1="359.0" y1="35.4" x2="428.2" y2="35.4" stroke="#6f5b63" stroke-width="2.3" stroke-dasharray="10.3 10.2"/><text x="433.1" y="42.4">S6</text>
</g>
</svg></body></html>
